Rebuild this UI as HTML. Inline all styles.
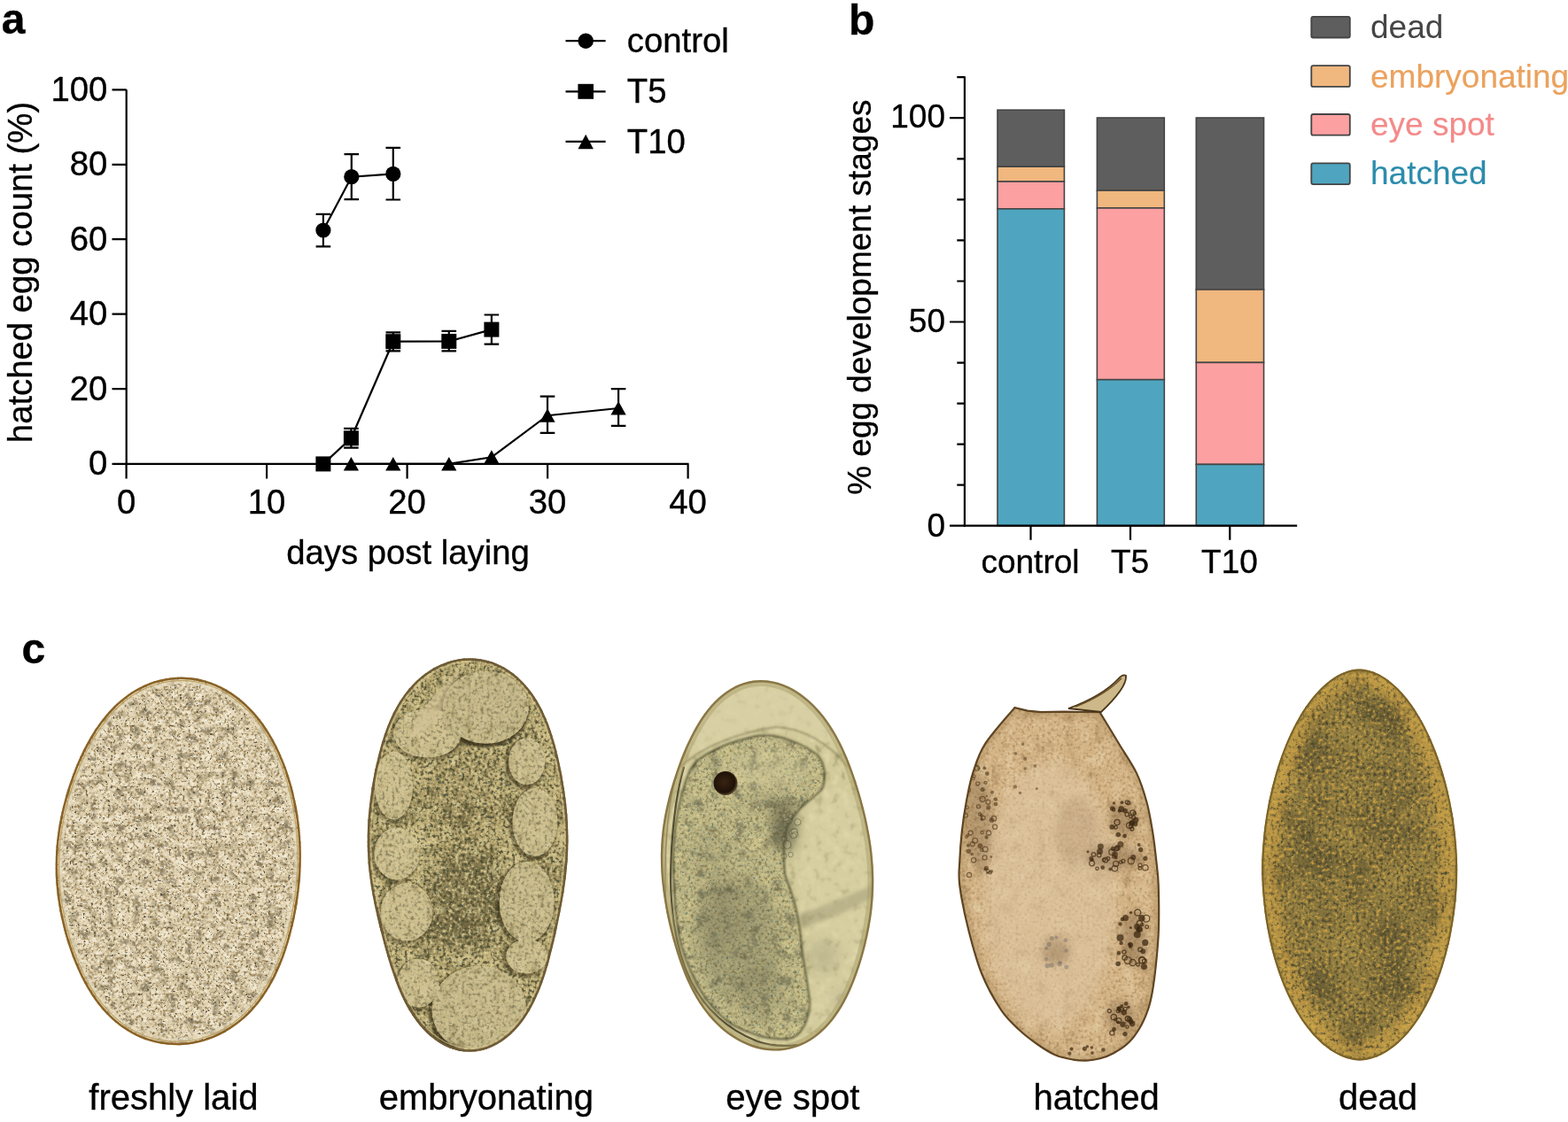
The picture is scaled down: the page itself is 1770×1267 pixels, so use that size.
<!DOCTYPE html>
<html><head><meta charset="utf-8"><title>Egg development figure</title>
<style>
html,body{margin:0;padding:0;background:#fff;width:1770px;height:1267px;overflow:hidden}
svg{display:block}
text{font-family:"Liberation Sans",Arial,sans-serif;fill:#000;stroke:#000;stroke-width:0.35px}
.t{font-size:37px}
.ta{font-size:38.3px}
.b{font-size:48px;font-weight:bold}
.c{font-size:40px}
</style></head><body>
<svg width="1770" height="1267" viewBox="0 0 1770 1267">
<!-- ===== Panel a ===== -->
<g id="pa">
<text class="b" x="1.8" y="38.3">a</text>
<g stroke="#000" stroke-width="2.2" fill="none">
<path d="M142.7 101.3V524.9M126.5 101.3H142.7M126.5 185.8H142.7M126.5 270.2H142.7M126.5 354.7H142.7M126.5 439.1H142.7M126.5 523.9H142.7"/>
<path d="M141.6 523.9H777.6M142.6 523.9V540.5M301.1 523.9V540.5M459.6 523.9V540.5M618.1 523.9V540.5M776.6 523.9V540.5"/>
</g>
<g class="ta" text-anchor="end">
<text x="121.3" y="113.8">100</text>
<text x="121.3" y="198.3">80</text>
<text x="121.3" y="282.7">60</text>
<text x="121.3" y="367.2">40</text>
<text x="121.3" y="451.6">20</text>
<text x="121.3" y="536.3">0</text>
</g>
<g class="ta" text-anchor="middle">
<text x="142.6" y="579.5">0</text>
<text x="301.1" y="579.5">10</text>
<text x="459.6" y="579.5">20</text>
<text x="618.1" y="579.5">30</text>
<text x="776.6" y="579.5">40</text>
<text x="460.5" y="636.5">days post laying</text>
</g>
<text class="ta" text-anchor="middle" transform="translate(35.5 307.5) rotate(-90)">hatched egg count (%)</text>
<!-- data -->
<g stroke="#000" stroke-width="2.2" fill="none">
<!-- control -->
<polyline points="364.9,260 396.8,199.7 443.8,196.4"/>
<path d="M364.9 241.8V278.3M356.6 241.8H373.2M356.6 278.3H373.2"/>
<path d="M396.8 174.2V225.2M388.5 174.2H405.1M388.5 225.2H405.1"/>
<path d="M443.8 166.9V225.5M435.5 166.9H452.1M435.5 225.5H452.1"/>
<!-- T5 -->
<polyline points="364.9,523.9 396.4,494.8 443.8,385.7 506.8,385.4 554.9,372.1"/>
<path d="M396.4 483.8V505.7M388.1 483.8H404.7M388.1 505.7H404.7"/>
<path d="M443.8 375.4V396.3M435.5 375.4H452.1M435.5 396.3H452.1"/>
<path d="M506.8 373.8V396.3M498.5 373.8H515.1M498.5 396.3H515.1"/>
<path d="M554.9 355.5V388.7M546.6 355.5H563.2M546.6 388.7H563.2"/>
<!-- T10 -->
<polyline points="396.4,523.9 443.8,523.9 506.8,523.9 554.9,516.3 618,469.2 698.1,461"/>
<path d="M618 447.7V488.8M609.7 447.7H626.3M609.7 488.8H626.3"/>
<path d="M698.1 439.1V480.8M689.8 439.1H706.4M689.8 480.8H706.4"/>
</g>
<g fill="#000">
<circle cx="364.9" cy="260" r="8.6"/>
<circle cx="396.8" cy="199.7" r="8.6"/>
<circle cx="443.8" cy="196.4" r="8.6"/>
<rect x="356.4" y="515.4" width="17" height="17"/>
<rect x="387.9" y="486.3" width="17" height="17"/>
<rect x="435.3" y="377.2" width="17" height="17"/>
<rect x="498.3" y="376.9" width="17" height="17"/>
<rect x="546.4" y="363.6" width="17" height="17"/>
<path d="M396.4 515.9L405 531.4H387.8Z"/>
<path d="M443.8 515.9L452.4 531.4H435.2Z"/>
<path d="M506.8 515.9L515.4 531.4H498.2Z"/>
<path d="M554.9 508.3L563.5 523.8H546.3Z"/>
<path d="M618 461.2L626.6 476.7H609.4Z"/>
<path d="M698.1 453L706.7 468.5H689.5Z"/>
</g>
<!-- legend a -->
<g stroke="#000" stroke-width="2.2"><path d="M638.5 46.2H683.6M638.5 103.3H683.6M638.5 159.9H683.6"/></g>
<g fill="#000">
<circle cx="661.2" cy="46.2" r="8.7"/>
<rect x="652.4" y="94.8" width="17.6" height="17"/>
<path d="M661.2 151.8L669.9 168.2H652.5Z"/>
</g>
<text class="ta" x="707.8" y="59">control</text>
<text class="ta" x="707.8" y="116.1">T5</text>
<text class="ta" x="707.8" y="173.4">T10</text>
</g>

<!-- ===== Panel b ===== -->
<g id="pb">
<text class="b" x="958" y="38.5">b</text>
<g stroke="#444" stroke-width="1.6">
<!-- control -->
<rect x="1126" y="124.2" width="75.4" height="64" fill="#5e5e5e"/>
<rect x="1126" y="188.2" width="75.4" height="16.8" fill="#f0b77e"/>
<rect x="1126" y="205" width="75.4" height="30.8" fill="#fca0a1"/>
<rect x="1126" y="235.8" width="75.4" height="357.9" fill="#4fa5bf"/>
<!-- T5 -->
<rect x="1238.4" y="133" width="75.9" height="82.1" fill="#5e5e5e"/>
<rect x="1238.4" y="215.1" width="75.9" height="19.8" fill="#f0b77e"/>
<rect x="1238.4" y="234.9" width="75.9" height="193.8" fill="#fca0a1"/>
<rect x="1238.4" y="428.7" width="75.9" height="165" fill="#4fa5bf"/>
<!-- T10 -->
<rect x="1350.3" y="133" width="76.3" height="194" fill="#5e5e5e"/>
<rect x="1350.3" y="327" width="76.3" height="82.4" fill="#f0b77e"/>
<rect x="1350.3" y="409.4" width="76.3" height="115" fill="#fca0a1"/>
<rect x="1350.3" y="524.4" width="76.3" height="69.3" fill="#4fa5bf"/>
</g>
<g stroke="#000" stroke-width="2.2" fill="none">
<path d="M1088.9 86.3V594.8"/>
<path d="M1072 133.2H1088.9M1072 363.5H1088.9M1072 593.7H1088.9"/>
<path d="M1080.3 87.2H1088.9M1080.3 179.3H1088.9M1080.3 225.4H1088.9M1080.3 271.4H1088.9M1080.3 317.5H1088.9M1080.3 409.6H1088.9M1080.3 455.6H1088.9M1080.3 501.7H1088.9M1080.3 547.7H1088.9"/>
<path d="M1087.8 593.7H1464.2M1163.5 593.7V609.7M1276 593.7V609.7M1388.3 593.7V609.7"/>
</g>
<g class="t" text-anchor="end">
<text x="1067" y="144.3">100</text>
<text x="1067" y="374.8">50</text>
<text x="1067" y="605.7">0</text>
</g>
<g class="t" text-anchor="middle">
<text x="1163" y="646.6">control</text>
<text x="1275.5" y="646.6">T5</text>
<text x="1388" y="646.6">T10</text>
</g>
<text class="t" text-anchor="middle" transform="translate(983 335.7) rotate(-90)">% egg development stages</text>
<!-- legend b -->
<g stroke="#444" stroke-width="1.8">
<rect x="1480.3" y="18.8" width="43.5" height="23.7" rx="2" fill="#5e5e5e"/>
<rect x="1480.3" y="74.2" width="43.5" height="23.7" rx="2" fill="#f0b77e"/>
<rect x="1480.3" y="129" width="43.5" height="23.7" rx="2" fill="#fca0a1"/>
<rect x="1480.3" y="184.4" width="43.5" height="23.7" rx="2" fill="#4fa5bf"/>
</g>
<text class="t" x="1547" y="43.2" style="fill:#454545;stroke:none">dead</text>
<text class="t" x="1547" y="98.5" style="fill:#eba25e;stroke:#eba25e;stroke-width:0.15px">embryonating</text>
<text class="t" x="1547" y="153" style="fill:#f48a8a;stroke:#f48a8a;stroke-width:0.15px">eye spot</text>
<text class="t" x="1547" y="208.3" style="fill:#2c8cac;stroke:#2c8cac;stroke-width:0.15px">hatched</text>
</g>

<!-- ===== Panel c ===== -->
<g id="pc">
<text class="b" x="24.5" y="749">c</text>
<defs>
<clipPath id="k1"><path d="M209.4 764.7 C213.5 764.9 217.5 765.3 221.5 766.0 C225.6 766.8 229.5 767.7 233.4 768.9 C237.3 770.1 241.2 771.5 245.0 773.2 C248.7 774.8 252.4 776.7 255.9 778.7 C259.5 780.8 263.0 783.1 266.3 785.5 C269.6 787.9 272.8 790.5 275.9 793.3 C279.0 796.0 282.0 798.9 284.8 802.0 C287.6 805.0 290.3 808.1 292.8 811.4 C295.4 814.6 297.8 818.0 300.1 821.4 C302.4 824.8 304.6 828.3 306.7 831.9 C308.7 835.4 310.7 839.0 312.5 842.7 C314.3 846.4 316.0 850.1 317.6 853.8 C319.3 857.6 320.8 861.4 322.2 865.2 C323.6 869.0 324.9 872.8 326.1 876.7 C327.4 880.5 328.5 884.4 329.6 888.3 C330.6 892.2 331.6 896.2 332.5 900.1 C333.4 904.0 334.2 908.0 335.0 912.0 C335.7 915.9 336.3 919.9 336.9 923.9 C337.5 928.0 338.0 932.0 338.4 936.0 C338.8 940.1 339.1 944.1 339.4 948.2 C339.6 952.3 339.8 956.3 339.9 960.4 C340.0 964.5 340.0 968.6 339.9 972.7 C339.9 976.8 339.7 980.9 339.5 985.0 C339.3 989.1 338.9 993.2 338.6 997.3 C338.2 1001.4 337.7 1005.5 337.2 1009.6 C336.7 1013.7 336.1 1017.8 335.4 1021.8 C334.8 1025.9 334.0 1029.9 333.2 1033.9 C332.4 1038.0 331.5 1042.0 330.6 1045.9 C329.7 1049.9 328.6 1053.9 327.6 1057.8 C326.5 1061.8 325.3 1065.7 324.1 1069.5 C322.8 1073.4 321.5 1077.2 320.1 1081.0 C318.7 1084.8 317.2 1088.6 315.6 1092.3 C314.0 1096.1 312.3 1099.7 310.5 1103.3 C308.7 1107.0 306.8 1110.5 304.8 1114.0 C302.7 1117.5 300.6 1120.9 298.3 1124.3 C296.0 1127.6 293.6 1130.9 291.1 1134.0 C288.5 1137.2 285.8 1140.3 283.0 1143.2 C280.2 1146.1 277.2 1148.9 274.2 1151.6 C271.1 1154.3 267.8 1156.8 264.5 1159.2 C261.1 1161.5 257.6 1163.8 254.0 1165.8 C250.4 1167.8 246.7 1169.6 242.9 1171.3 C239.1 1172.9 235.2 1174.3 231.2 1175.5 C227.2 1176.7 223.2 1177.7 219.1 1178.4 C215.0 1179.2 210.9 1179.7 206.7 1180.0 C202.6 1180.3 198.4 1180.3 194.3 1180.1 C190.2 1179.9 186.1 1179.5 182.1 1178.8 C178.0 1178.1 174.0 1177.2 170.1 1176.1 C166.2 1175.0 162.3 1173.6 158.6 1172.0 C154.8 1170.4 151.2 1168.6 147.6 1166.6 C144.1 1164.7 140.7 1162.5 137.4 1160.1 C134.1 1157.8 130.9 1155.2 127.9 1152.6 C124.9 1149.9 122.0 1147.1 119.2 1144.1 C116.4 1141.2 113.8 1138.1 111.3 1134.9 C108.8 1131.7 106.4 1128.4 104.1 1125.0 C101.9 1121.6 99.7 1118.1 97.7 1114.6 C95.7 1111.0 93.7 1107.4 91.9 1103.8 C90.1 1100.1 88.4 1096.4 86.7 1092.6 C85.1 1088.8 83.5 1085.0 82.1 1081.2 C80.6 1077.3 79.2 1073.5 77.9 1069.6 C76.6 1065.7 75.4 1061.7 74.3 1057.8 C73.1 1053.9 72.1 1049.9 71.1 1045.9 C70.1 1041.9 69.2 1037.9 68.4 1033.9 C67.6 1029.9 66.8 1025.9 66.2 1021.8 C65.5 1017.8 64.9 1013.8 64.4 1009.7 C64.0 1005.7 63.6 1001.6 63.3 997.5 C63.0 993.5 62.7 989.4 62.6 985.3 C62.5 981.3 62.5 977.2 62.6 973.2 C62.6 969.1 62.8 965.0 63.1 961.0 C63.3 957.0 63.7 952.9 64.1 948.9 C64.6 944.9 65.1 940.8 65.7 936.8 C66.3 932.8 67.1 928.8 67.8 924.8 C68.6 920.9 69.5 916.9 70.4 912.9 C71.4 909.0 72.4 905.1 73.5 901.1 C74.6 897.2 75.8 893.3 77.0 889.4 C78.3 885.6 79.6 881.7 81.0 877.8 C82.3 874.0 83.8 870.2 85.3 866.4 C86.9 862.6 88.5 858.8 90.2 855.1 C91.9 851.3 93.7 847.6 95.6 844.0 C97.4 840.3 99.4 836.7 101.5 833.1 C103.6 829.6 105.7 826.1 108.0 822.7 C110.3 819.2 112.7 815.9 115.2 812.6 C117.7 809.4 120.4 806.2 123.1 803.2 C125.9 800.1 128.8 797.2 131.8 794.4 C134.8 791.7 138.0 789.0 141.2 786.5 C144.5 784.1 147.9 781.8 151.3 779.7 C154.8 777.5 158.4 775.6 162.1 773.9 C165.8 772.2 169.6 770.7 173.4 769.5 C177.3 768.2 181.2 767.2 185.2 766.4 C189.2 765.6 193.2 765.1 197.3 764.8 C201.3 764.5 205.4 764.4 209.4 764.7Z"/></clipPath>
<clipPath id="k2"><path d="M530.5 743.2 C534.5 743.2 538.5 743.6 542.4 744.2 C546.4 744.8 550.3 745.8 554.1 747.0 C557.9 748.2 561.6 749.8 565.2 751.5 C568.8 753.3 572.3 755.4 575.6 757.7 C578.9 759.9 582.1 762.5 585.1 765.2 C588.1 767.9 591.0 770.8 593.6 773.9 C596.3 776.9 598.8 780.2 601.2 783.5 C603.5 786.8 605.7 790.3 607.7 793.8 C609.8 797.3 611.6 801.0 613.4 804.6 C615.1 808.3 616.7 812.0 618.2 815.8 C619.7 819.5 621.0 823.3 622.3 827.1 C623.6 830.9 624.7 834.7 625.8 838.6 C626.9 842.4 628.0 846.2 628.9 850.1 C629.9 853.9 630.8 857.8 631.6 861.6 C632.4 865.5 633.2 869.4 634.0 873.3 C634.7 877.2 635.4 881.1 636.0 885.0 C636.7 888.9 637.3 892.9 637.8 896.9 C638.3 900.8 638.8 904.8 639.3 908.8 C639.7 912.8 640.1 916.9 640.4 920.9 C640.7 925.0 641.0 929.1 641.1 933.2 C641.3 937.3 641.4 941.4 641.4 945.5 C641.5 949.6 641.4 953.7 641.3 957.8 C641.2 961.9 641.0 966.0 640.7 970.1 C640.5 974.2 640.1 978.3 639.7 982.3 C639.3 986.4 638.9 990.4 638.4 994.4 C637.8 998.4 637.3 1002.3 636.6 1006.3 C636.0 1010.2 635.4 1014.1 634.7 1018.0 C634.0 1021.9 633.3 1025.7 632.5 1029.6 C631.8 1033.4 631.0 1037.2 630.2 1041.0 C629.4 1044.8 628.6 1048.6 627.8 1052.4 C626.9 1056.2 626.1 1060.0 625.2 1063.9 C624.3 1067.7 623.4 1071.5 622.4 1075.4 C621.4 1079.2 620.4 1083.1 619.3 1087.0 C618.3 1090.8 617.1 1094.7 615.9 1098.7 C614.7 1102.6 613.4 1106.5 611.9 1110.4 C610.5 1114.3 609.0 1118.2 607.3 1122.1 C605.7 1126.0 603.9 1129.8 602.0 1133.6 C600.0 1137.3 597.9 1141.1 595.7 1144.6 C593.4 1148.2 591.0 1151.7 588.5 1155.0 C585.9 1158.3 583.2 1161.5 580.3 1164.4 C577.4 1167.3 574.4 1170.1 571.2 1172.6 C568.1 1175.0 564.7 1177.3 561.3 1179.2 C557.9 1181.1 554.4 1182.7 550.8 1184.0 C547.2 1185.3 543.5 1186.3 539.8 1186.9 C536.1 1187.5 532.3 1187.8 528.6 1187.7 C524.9 1187.6 521.1 1187.2 517.4 1186.4 C513.8 1185.6 510.1 1184.5 506.6 1183.0 C503.0 1181.6 499.5 1179.8 496.2 1177.8 C492.8 1175.7 489.6 1173.3 486.5 1170.7 C483.4 1168.2 480.4 1165.3 477.6 1162.2 C474.8 1159.2 472.2 1155.9 469.6 1152.6 C467.1 1149.2 464.8 1145.6 462.6 1142.0 C460.4 1138.3 458.4 1134.6 456.4 1130.8 C454.5 1127.0 452.7 1123.1 451.1 1119.2 C449.4 1115.3 447.9 1111.4 446.4 1107.5 C444.9 1103.6 443.6 1099.6 442.3 1095.8 C441.0 1091.9 439.8 1088.0 438.6 1084.1 C437.5 1080.3 436.4 1076.5 435.3 1072.6 C434.2 1068.8 433.2 1065.1 432.2 1061.3 C431.2 1057.5 430.2 1053.8 429.3 1050.0 C428.3 1046.2 427.4 1042.5 426.5 1038.7 C425.6 1034.9 424.7 1031.2 423.9 1027.4 C423.1 1023.5 422.2 1019.7 421.5 1015.9 C420.7 1012.0 420.0 1008.1 419.4 1004.2 C418.7 1000.3 418.1 996.3 417.6 992.3 C417.0 988.3 416.5 984.3 416.1 980.2 C415.8 976.2 415.4 972.1 415.2 968.0 C414.9 963.9 414.8 959.8 414.7 955.6 C414.6 951.5 414.6 947.4 414.7 943.2 C414.8 939.1 414.9 935.0 415.1 930.8 C415.4 926.7 415.7 922.6 416.0 918.6 C416.4 914.5 416.8 910.4 417.3 906.4 C417.8 902.4 418.3 898.4 418.9 894.4 C419.5 890.4 420.1 886.5 420.8 882.6 C421.5 878.7 422.2 874.8 423.0 870.9 C423.8 867.1 424.6 863.2 425.5 859.4 C426.4 855.6 427.3 851.8 428.3 848.0 C429.3 844.2 430.4 840.4 431.6 836.6 C432.7 832.9 434.0 829.1 435.3 825.4 C436.7 821.7 438.1 817.9 439.7 814.3 C441.3 810.6 443.0 806.9 444.8 803.3 C446.7 799.8 448.7 796.2 450.8 792.8 C453.0 789.3 455.3 785.9 457.8 782.6 C460.3 779.4 462.9 776.2 465.7 773.2 C468.6 770.2 471.5 767.3 474.7 764.7 C477.8 762.0 481.1 759.5 484.6 757.3 C488.0 755.1 491.6 753.0 495.3 751.3 C499.0 749.6 502.8 748.1 506.6 746.9 C510.5 745.7 514.5 744.7 518.5 744.1 C522.4 743.5 526.5 743.2 530.5 743.2Z"/></clipPath>
<clipPath id="klobes"><ellipse cx="548.4" cy="798.6" rx="48.5" ry="41.2"/><ellipse cx="594.7" cy="859.8" rx="20.5" ry="26.5"/><ellipse cx="603.9" cy="928.5" rx="25.5" ry="38.5"/><ellipse cx="594.7" cy="1018.4" rx="31.0" ry="45.5"/><ellipse cx="594.7" cy="1080" rx="23.5" ry="19.5"/><ellipse cx="541" cy="1140" rx="53.5" ry="49.5"/><ellipse cx="472.3" cy="1110" rx="23.5" ry="27.5"/><ellipse cx="444.5" cy="887" rx="21.5" ry="38.5"/><ellipse cx="448" cy="964" rx="25.5" ry="29.5"/><ellipse cx="459" cy="1030" rx="29.5" ry="32.5"/><ellipse cx="482.6" cy="828" rx="38.5" ry="27.5"/></clipPath>
<clipPath id="k3"><path d="M861.4 768.0 C865.1 768.1 868.8 768.5 872.4 769.3 C876.1 770.0 879.7 771.1 883.3 772.4 C886.9 773.7 890.4 775.3 893.9 777.1 C897.3 779.0 900.7 781.1 904.0 783.4 C907.2 785.7 910.4 788.2 913.4 790.9 C916.4 793.6 919.3 796.4 922.1 799.4 C924.8 802.4 927.5 805.5 930.0 808.7 C932.5 811.9 934.8 815.3 937.1 818.6 C939.3 822.0 941.4 825.4 943.4 828.9 C945.4 832.3 947.3 835.9 949.0 839.4 C950.8 842.9 952.4 846.4 954.0 850.0 C955.6 853.5 957.1 857.1 958.5 860.7 C959.9 864.2 961.2 867.8 962.5 871.4 C963.8 875.0 965.0 878.5 966.2 882.1 C967.4 885.7 968.5 889.3 969.6 893.0 C970.7 896.6 971.7 900.2 972.7 903.9 C973.7 907.6 974.7 911.3 975.6 915.0 C976.6 918.7 977.4 922.5 978.3 926.3 C979.1 930.1 979.9 933.9 980.6 937.7 C981.4 941.6 982.0 945.5 982.6 949.3 C983.2 953.2 983.8 957.2 984.3 961.1 C984.7 965.0 985.1 969.0 985.4 972.9 C985.7 976.9 986.0 980.9 986.1 984.8 C986.3 988.8 986.4 992.7 986.3 996.6 C986.3 1000.6 986.2 1004.5 986.0 1008.4 C985.8 1012.3 985.6 1016.2 985.2 1020.1 C984.9 1023.9 984.4 1027.8 983.9 1031.6 C983.4 1035.4 982.9 1039.2 982.2 1043.0 C981.6 1046.8 980.9 1050.5 980.1 1054.3 C979.3 1058.0 978.5 1061.8 977.6 1065.5 C976.7 1069.2 975.8 1072.9 974.7 1076.6 C973.7 1080.4 972.6 1084.1 971.5 1087.8 C970.3 1091.5 969.1 1095.2 967.8 1098.9 C966.5 1102.5 965.1 1106.2 963.6 1109.9 C962.1 1113.5 960.6 1117.2 958.9 1120.8 C957.2 1124.4 955.4 1128.0 953.5 1131.5 C951.6 1135.0 949.6 1138.4 947.5 1141.8 C945.3 1145.1 943.0 1148.4 940.6 1151.5 C938.2 1154.6 935.6 1157.6 932.9 1160.4 C930.2 1163.2 927.4 1165.9 924.4 1168.3 C921.4 1170.8 918.3 1173.1 915.0 1175.1 C911.8 1177.1 908.4 1178.9 905.0 1180.4 C901.5 1181.9 897.9 1183.2 894.3 1184.2 C890.6 1185.1 886.9 1185.8 883.1 1186.2 C879.3 1186.7 875.5 1186.8 871.7 1186.6 C867.8 1186.4 864.0 1186.0 860.1 1185.2 C856.3 1184.5 852.5 1183.5 848.8 1182.2 C845.1 1180.9 841.4 1179.4 837.8 1177.6 C834.2 1175.9 830.7 1173.9 827.3 1171.7 C824.0 1169.6 820.7 1167.2 817.6 1164.6 C814.4 1162.1 811.4 1159.4 808.6 1156.6 C805.7 1153.8 803.0 1150.8 800.4 1147.8 C797.9 1144.7 795.4 1141.6 793.2 1138.4 C790.9 1135.2 788.7 1131.9 786.7 1128.6 C784.7 1125.2 782.8 1121.9 781.0 1118.5 C779.2 1115.1 777.6 1111.6 776.0 1108.2 C774.4 1104.7 773.0 1101.2 771.6 1097.7 C770.2 1094.2 768.9 1090.7 767.6 1087.1 C766.3 1083.5 765.2 1080.0 764.0 1076.3 C762.9 1072.7 761.8 1069.1 760.7 1065.4 C759.7 1061.7 758.7 1058.0 757.7 1054.3 C756.8 1050.5 755.9 1046.7 755.0 1042.9 C754.1 1039.1 753.3 1035.3 752.5 1031.4 C751.7 1027.5 751.0 1023.6 750.3 1019.7 C749.7 1015.7 749.1 1011.8 748.5 1007.8 C748.0 1003.8 747.5 999.8 747.1 995.8 C746.7 991.8 746.4 987.8 746.2 983.8 C746.0 979.9 745.8 975.9 745.8 971.9 C745.7 968.0 745.7 964.0 745.9 960.1 C746.0 956.2 746.2 952.3 746.5 948.5 C746.8 944.6 747.2 940.8 747.6 937.0 C748.1 933.3 748.6 929.5 749.3 925.8 C749.9 922.1 750.6 918.4 751.3 914.7 C752.1 911.0 752.9 907.4 753.8 903.7 C754.7 900.1 755.7 896.4 756.7 892.8 C757.7 889.2 758.8 885.5 759.9 881.9 C761.0 878.2 762.2 874.6 763.5 870.9 C764.7 867.3 766.0 863.6 767.4 859.9 C768.8 856.2 770.3 852.5 771.8 848.8 C773.4 845.2 775.0 841.5 776.7 837.8 C778.4 834.1 780.2 830.5 782.1 826.9 C784.0 823.3 786.0 819.7 788.2 816.2 C790.3 812.7 792.5 809.3 794.9 806.0 C797.3 802.8 799.8 799.6 802.4 796.6 C805.1 793.6 807.8 790.8 810.7 788.1 C813.6 785.5 816.6 783.1 819.7 780.9 C822.9 778.7 826.1 776.7 829.4 775.1 C832.8 773.4 836.2 772.0 839.7 770.9 C843.2 769.8 846.8 769.0 850.4 768.5 C854.0 768.0 857.7 767.8 861.4 768.0Z"/></clipPath>
<clipPath id="kemb"><path d="M787 859 C805 845 830 836 855 831 C880 828 905 840 922 852 C932 862 933 880 928 891 C918 902 900 912 890 930 C884 945 884 965 886 988 C895 1010 902 1035 904 1061 C907 1090 913 1115 914 1133 C914 1150 905 1168 894 1172 C880 1175 870 1172 862 1171 C845 1166 828 1160 815 1148 C800 1135 788 1115 780 1097 C772 1080 766 1060 764 1040 C760 1000 759 970 761 950 C763 920 768 900 775 880 C778 870 782 864 787 859 Z"/></clipPath>
<clipPath id="k5"><path d="M1645.2 976.3 C1645.3 979.6 1645.3 982.8 1645.2 986.2 C1645.2 989.6 1645.1 993.2 1644.9 996.8 C1644.8 1000.4 1644.5 1004.0 1644.3 1007.7 C1644.0 1011.3 1643.7 1015.0 1643.4 1018.6 C1643.0 1022.3 1642.6 1025.9 1642.1 1029.6 C1641.6 1033.2 1641.1 1036.9 1640.5 1040.5 C1640.0 1044.1 1639.3 1047.8 1638.7 1051.4 C1638.0 1054.9 1637.3 1058.5 1636.5 1062.1 C1635.7 1065.6 1634.9 1069.1 1634.0 1072.6 C1633.1 1076.0 1632.2 1079.5 1631.2 1082.9 C1630.3 1086.3 1629.2 1089.6 1628.2 1092.9 C1627.1 1096.2 1626.0 1099.5 1624.8 1102.7 C1623.7 1105.9 1622.5 1109.0 1621.2 1112.1 C1620.0 1115.2 1618.7 1118.2 1617.4 1121.1 C1616.1 1124.1 1614.7 1127.0 1613.3 1129.8 C1611.9 1132.6 1610.4 1135.4 1609.0 1138.1 C1607.5 1140.7 1606.0 1143.3 1604.4 1145.9 C1602.9 1148.4 1601.3 1150.8 1599.7 1153.2 C1598.1 1155.6 1596.4 1157.8 1594.8 1160.0 C1593.1 1162.2 1591.4 1164.3 1589.7 1166.4 C1588.0 1168.4 1586.2 1170.3 1584.4 1172.1 C1582.7 1174.0 1580.9 1175.7 1579.1 1177.4 C1577.3 1179.0 1575.5 1180.6 1573.6 1182.0 C1571.8 1183.5 1569.9 1184.8 1568.1 1186.1 C1566.2 1187.3 1564.3 1188.5 1562.5 1189.5 C1560.6 1190.6 1558.7 1191.5 1556.8 1192.4 C1555.0 1193.2 1553.1 1194.0 1551.2 1194.6 C1549.4 1195.2 1547.5 1195.8 1545.6 1196.2 C1543.8 1196.6 1541.9 1197.0 1540.2 1197.2 C1538.4 1197.4 1536.8 1197.5 1535.1 1197.5 C1533.4 1197.5 1531.7 1197.4 1530.0 1197.2 C1528.2 1197.0 1526.4 1196.7 1524.5 1196.2 C1522.7 1195.8 1520.8 1195.3 1518.9 1194.7 C1517.1 1194.0 1515.2 1193.3 1513.3 1192.5 C1511.4 1191.6 1509.5 1190.7 1507.7 1189.6 C1505.8 1188.6 1503.9 1187.4 1502.1 1186.2 C1500.2 1184.9 1498.3 1183.6 1496.5 1182.1 C1494.7 1180.7 1492.8 1179.2 1491.0 1177.5 C1489.2 1175.9 1487.4 1174.1 1485.6 1172.3 C1483.9 1170.5 1482.1 1168.6 1480.4 1166.5 C1478.7 1164.5 1477.0 1162.4 1475.3 1160.2 C1473.6 1158.1 1472.0 1155.8 1470.3 1153.4 C1468.7 1151.1 1467.1 1148.6 1465.6 1146.1 C1464.0 1143.6 1462.5 1141.0 1461.0 1138.3 C1459.5 1135.6 1458.1 1132.9 1456.6 1130.1 C1455.2 1127.3 1453.9 1124.4 1452.5 1121.4 C1451.2 1118.5 1449.9 1115.5 1448.6 1112.4 C1447.4 1109.3 1446.2 1106.2 1445.0 1103.0 C1443.8 1099.8 1442.7 1096.5 1441.6 1093.2 C1440.6 1089.9 1439.5 1086.6 1438.5 1083.2 C1437.6 1079.8 1436.6 1076.4 1435.7 1072.9 C1434.8 1069.5 1434.0 1065.9 1433.2 1062.4 C1432.4 1058.9 1431.7 1055.3 1431.0 1051.7 C1430.3 1048.1 1429.7 1044.5 1429.1 1040.9 C1428.5 1037.3 1428.0 1033.6 1427.5 1030.0 C1427.0 1026.3 1426.6 1022.6 1426.2 1019.0 C1425.8 1015.3 1425.5 1011.7 1425.2 1008.0 C1425.0 1004.4 1424.7 1000.8 1424.6 997.2 C1424.4 993.6 1424.3 990.0 1424.2 986.6 C1424.2 983.2 1424.2 980.0 1424.2 976.7 C1424.2 973.4 1424.3 970.2 1424.5 966.8 C1424.6 963.4 1424.8 959.8 1425.1 956.2 C1425.4 952.6 1425.7 949.0 1426.0 945.3 C1426.4 941.7 1426.8 938.0 1427.3 934.4 C1427.8 930.7 1428.3 927.1 1428.8 923.4 C1429.4 919.8 1430.0 916.1 1430.7 912.5 C1431.4 908.9 1432.1 905.2 1432.8 901.6 C1433.6 898.1 1434.4 894.5 1435.3 890.9 C1436.1 887.4 1437.0 883.9 1438.0 880.4 C1438.9 877.0 1439.9 873.5 1440.9 870.1 C1441.9 866.7 1443.0 863.4 1444.1 860.1 C1445.2 856.8 1446.4 853.5 1447.6 850.3 C1448.8 847.1 1450.0 844.0 1451.3 840.9 C1452.5 837.8 1453.9 834.8 1455.2 831.9 C1456.5 828.9 1457.9 826.0 1459.3 823.2 C1460.7 820.4 1462.1 817.6 1463.6 814.9 C1465.1 812.3 1466.6 809.7 1468.1 807.1 C1469.6 804.6 1471.2 802.2 1472.7 799.8 C1474.3 797.4 1475.9 795.2 1477.5 793.0 C1479.2 790.8 1480.8 788.7 1482.5 786.6 C1484.1 784.6 1485.8 782.7 1487.5 780.9 C1489.2 779.0 1490.9 777.3 1492.7 775.6 C1494.4 774.0 1496.1 772.4 1497.9 771.0 C1499.6 769.5 1501.4 768.2 1503.1 766.9 C1504.9 765.7 1506.7 764.5 1508.5 763.5 C1510.2 762.4 1512.0 761.5 1513.8 760.6 C1515.6 759.8 1517.3 759.0 1519.1 758.4 C1520.9 757.8 1522.6 757.2 1524.4 756.8 C1526.1 756.4 1527.9 756.0 1529.5 755.8 C1531.2 755.6 1532.7 755.5 1534.3 755.5 C1535.9 755.5 1537.5 755.6 1539.1 755.8 C1540.8 756.0 1542.5 756.3 1544.3 756.8 C1546.0 757.2 1547.8 757.7 1549.5 758.3 C1551.3 759.0 1553.1 759.7 1554.9 760.5 C1556.6 761.4 1558.4 762.3 1560.2 763.4 C1562.0 764.4 1563.8 765.6 1565.5 766.8 C1567.3 768.1 1569.1 769.4 1570.8 770.9 C1572.6 772.3 1574.3 773.9 1576.0 775.5 C1577.8 777.1 1579.5 778.9 1581.2 780.7 C1582.9 782.5 1584.6 784.5 1586.3 786.5 C1587.9 788.5 1589.6 790.6 1591.2 792.8 C1592.8 795.0 1594.5 797.2 1596.0 799.6 C1597.6 801.9 1599.2 804.4 1600.7 806.9 C1602.2 809.4 1603.7 812.0 1605.2 814.7 C1606.7 817.4 1608.1 820.1 1609.6 822.9 C1611.0 825.7 1612.4 828.6 1613.7 831.6 C1615.1 834.5 1616.4 837.5 1617.6 840.6 C1618.9 843.7 1620.2 846.8 1621.4 850.0 C1622.6 853.2 1623.7 856.5 1624.9 859.8 C1626.0 863.1 1627.1 866.4 1628.1 869.8 C1629.2 873.2 1630.2 876.6 1631.1 880.1 C1632.1 883.6 1633.0 887.1 1633.8 890.6 C1634.7 894.1 1635.5 897.7 1636.3 901.3 C1637.1 904.9 1637.8 908.5 1638.5 912.1 C1639.2 915.7 1639.8 919.4 1640.4 923.0 C1641.0 926.7 1641.5 930.4 1642.0 934.0 C1642.4 937.7 1642.9 941.3 1643.2 945.0 C1643.6 948.6 1644.0 952.2 1644.2 955.8 C1644.5 959.4 1644.7 963.0 1644.9 966.4 C1645.0 969.8 1645.1 973.0 1645.2 976.3Z"/></clipPath>
<clipPath id="k4"><path d="M1145.4 799.1 L1160 802.6 L1175 804.2 L1202 803.6 L1222 804.0 L1241.4 804.1 C1245.0 810.0 1256.1 828.2 1263.0 839.7 C1269.9 851.2 1277.7 861.9 1282.9 872.9 C1288.2 883.9 1291.5 895.0 1294.5 906.0 C1297.5 917.0 1299.3 928.2 1301.1 939.2 C1302.9 950.2 1304.2 962.2 1305.3 972.3 C1306.4 982.4 1307.3 987.1 1307.7 1000.0 C1308.1 1012.9 1308.4 1034.7 1307.9 1049.7 C1307.4 1064.7 1306.0 1078.3 1304.8 1090.0 C1303.6 1101.7 1302.3 1111.6 1300.8 1120.0 C1299.3 1128.4 1298.2 1133.5 1295.8 1140.3 C1293.4 1147.1 1290.2 1154.6 1286.6 1160.7 C1283.0 1166.8 1279.3 1172.2 1274.4 1177.0 C1269.5 1181.8 1262.5 1186.2 1257.1 1189.2 C1251.7 1192.2 1247.0 1193.9 1241.9 1195.3 C1236.8 1196.7 1231.7 1197.4 1226.6 1197.6 C1221.5 1197.8 1217.3 1197.7 1211.4 1196.6 C1205.5 1195.5 1197.8 1194.1 1191.0 1191.2 C1184.2 1188.3 1177.5 1183.8 1170.7 1179.0 C1163.9 1174.2 1157.1 1169.2 1150.3 1162.7 C1143.5 1156.2 1137.0 1150.8 1130.0 1140.3 C1123.0 1129.8 1114.3 1114.6 1108.2 1099.5 C1102.1 1084.4 1097.4 1066.3 1093.2 1049.7 C1089.0 1033.1 1085.0 1012.9 1083.3 1000.0 C1081.6 987.1 1082.9 982.4 1083.3 972.3 C1083.7 962.2 1084.6 950.2 1085.8 939.2 C1087.0 928.2 1088.6 917.0 1090.7 906.0 C1092.8 895.0 1094.6 883.9 1098.2 872.9 C1101.8 861.9 1104.4 852.0 1112.3 839.7 C1120.2 827.4 1139.9 805.9 1145.4 799.1Z"/></clipPath>
<filter id="t1" x="0" y="0" width="100%" height="100%" color-interpolation-filters="sRGB"><feTurbulence type="fractalNoise" baseFrequency="0.32" numOctaves="2" seed="7" result="n0"/><feGaussianBlur in="n0" stdDeviation="0.3" result="n"/><feColorMatrix in="n" type="matrix" values="0 0 0 0 0.557 0 0 0 0 0.455 0 0 0 0 0.282 4.5 0 0 0 -2.45" result="L0"/><feColorMatrix in="n" type="matrix" values="0 0 0 0 0.965 0 0 0 0 0.933 0 0 0 0 0.859 -4.5 0 0 0 2.05" result="L1"/><feColorMatrix in="n" type="matrix" values="0 0 0 0 0.29 0 0 0 0 0.267 0 0 0 0 0.212 0 7 0 0 -4.5" result="L2"/><feMerge><feMergeNode in="L0"/><feMergeNode in="L1"/><feMergeNode in="L2"/></feMerge></filter>
<filter id="t1m" x="0" y="0" width="100%" height="100%" color-interpolation-filters="sRGB"><feTurbulence type="fractalNoise" baseFrequency="0.1" numOctaves="2" seed="23" result="n0"/><feGaussianBlur in="n0" stdDeviation="0.8" result="n"/><feColorMatrix in="n" type="matrix" values="0 0 0 0 0.522 0 0 0 0 0.478 0 0 0 0 0.376 4.5 0 0 0 -2.45" result="L0"/><feColorMatrix in="n" type="matrix" values="0 0 0 0 0.949 0 0 0 0 0.918 0 0 0 0 0.831 -4.5 0 0 0 2.1" result="L1"/><feMerge><feMergeNode in="L0"/><feMergeNode in="L1"/></feMerge></filter>
<filter id="t1b" x="0" y="0" width="100%" height="100%" color-interpolation-filters="sRGB"><feTurbulence type="fractalNoise" baseFrequency="0.06" numOctaves="2" seed="11" result="n0"/><feGaussianBlur in="n0" stdDeviation="1" result="n"/><feColorMatrix in="n" type="matrix" values="0 0 0 0 0.604 0 0 0 0 0.541 0 0 0 0 0.392 3.5 0 0 0 -1.95" result="L0"/><feColorMatrix in="n" type="matrix" values="0 0 0 0 0.949 0 0 0 0 0.91 0 0 0 0 0.816 -3.5 0 0 0 1.6" result="L1"/><feMerge><feMergeNode in="L0"/><feMergeNode in="L1"/></feMerge></filter>
<filter id="t2" x="0" y="0" width="100%" height="100%" color-interpolation-filters="sRGB"><feTurbulence type="fractalNoise" baseFrequency="0.28" numOctaves="2" seed="3" result="n0"/><feGaussianBlur in="n0" stdDeviation="0.4" result="n"/><feColorMatrix in="n" type="matrix" values="0 0 0 0 0.298 0 0 0 0 0.29 0 0 0 0 0.188 4.5 0 0 0 -2.35" result="L0"/><feColorMatrix in="n" type="matrix" values="0 0 0 0 0.863 0 0 0 0 0.816 0 0 0 0 0.604 -4.5 0 0 0 1.95" result="L1"/><feColorMatrix in="n" type="matrix" values="0 0 0 0 0.243 0 0 0 0 0.353 0 0 0 0 0.337 0 6 0 0 -4.1" result="L2"/><feMerge><feMergeNode in="L0"/><feMergeNode in="L1"/><feMergeNode in="L2"/></feMerge></filter>
<filter id="t2s" x="0" y="0" width="100%" height="100%" color-interpolation-filters="sRGB"><feTurbulence type="fractalNoise" baseFrequency="0.12" numOctaves="2" seed="41" result="n0"/><feGaussianBlur in="n0" stdDeviation="1.2" result="n"/><feColorMatrix in="n" type="matrix" values="0 0 0 0 0.541 0 0 0 0 0.478 0 0 0 0 0.298 3 0 0 0 -1.75" result="L0"/><feColorMatrix in="n" type="matrix" values="0 0 0 0 0.937 0 0 0 0 0.886 0 0 0 0 0.714 -3 0 0 0 1.45" result="L1"/><feMerge><feMergeNode in="L0"/><feMergeNode in="L1"/></feMerge></filter>
<filter id="t2m" x="0" y="0" width="100%" height="100%" color-interpolation-filters="sRGB"><feTurbulence type="fractalNoise" baseFrequency="0.09" numOctaves="2" seed="31" result="n0"/><feGaussianBlur in="n0" stdDeviation="0.8" result="n"/><feColorMatrix in="n" type="matrix" values="0 0 0 0 0.384 0 0 0 0 0.376 0 0 0 0 0.243 4.5 0 0 0 -2.5" result="L0"/><feColorMatrix in="n" type="matrix" values="0 0 0 0 0.863 0 0 0 0 0.816 0 0 0 0 0.612 -4.5 0 0 0 2.1" result="L1"/><feMerge><feMergeNode in="L0"/><feMergeNode in="L1"/></feMerge></filter>
<filter id="t2b" x="0" y="0" width="100%" height="100%" color-interpolation-filters="sRGB"><feTurbulence type="fractalNoise" baseFrequency="0.03" numOctaves="2" seed="5" result="n0"/><feOffset in="n0" dx="0" dy="0" result="n"/><feColorMatrix in="n" type="matrix" values="0 0 0 0 0.447 0 0 0 0 0.4 0 0 0 0 0.251 3.5 0 0 0 -1.85" result="L0"/><feColorMatrix in="n" type="matrix" values="0 0 0 0 0.863 0 0 0 0 0.8 0 0 0 0 0.596 -3.5 0 0 0 1.6" result="L1"/><feMerge><feMergeNode in="L0"/><feMergeNode in="L1"/></feMerge></filter>
<filter id="t3" x="0" y="0" width="100%" height="100%" color-interpolation-filters="sRGB"><feTurbulence type="fractalNoise" baseFrequency="0.1" numOctaves="2" seed="9" result="n0"/><feGaussianBlur in="n0" stdDeviation="0.6" result="n"/><feColorMatrix in="n" type="matrix" values="0 0 0 0 0.502 0 0 0 0 0.478 0 0 0 0 0.322 4 0 0 0 -2.35" result="L0"/><feColorMatrix in="n" type="matrix" values="0 0 0 0 0.918 0 0 0 0 0.886 0 0 0 0 0.722 -4 0 0 0 1.9" result="L1"/><feMerge><feMergeNode in="L0"/><feMergeNode in="L1"/></feMerge></filter>
<filter id="t3m" x="0" y="0" width="100%" height="100%" color-interpolation-filters="sRGB"><feTurbulence type="fractalNoise" baseFrequency="0.07" numOctaves="2" seed="33" result="n0"/><feGaussianBlur in="n0" stdDeviation="1" result="n"/><feColorMatrix in="n" type="matrix" values="0 0 0 0 0.431 0 0 0 0 0.424 0 0 0 0 0.322 4 0 0 0 -2.2" result="L0"/><feColorMatrix in="n" type="matrix" values="0 0 0 0 0.839 0 0 0 0 0.792 0 0 0 0 0.565 -4 0 0 0 1.8" result="L1"/><feMerge><feMergeNode in="L0"/><feMergeNode in="L1"/></feMerge></filter>
<filter id="t3e" x="0" y="0" width="100%" height="100%" color-interpolation-filters="sRGB"><feTurbulence type="fractalNoise" baseFrequency="0.3" numOctaves="2" seed="21" result="n0"/><feGaussianBlur in="n0" stdDeviation="0.35" result="n"/><feColorMatrix in="n" type="matrix" values="0 0 0 0 0.478 0 0 0 0 0.424 0 0 0 0 0.251 4.5 0 0 0 -2.45" result="L0"/><feColorMatrix in="n" type="matrix" values="0 0 0 0 0.867 0 0 0 0 0.816 0 0 0 0 0.588 -4.5 0 0 0 2.05" result="L1"/><feColorMatrix in="n" type="matrix" values="0 0 0 0 0.275 0 0 0 0 0.408 0 0 0 0 0.416 0 5.5 0 0 -3.5" result="L2"/><feMerge><feMergeNode in="L0"/><feMergeNode in="L1"/><feMergeNode in="L2"/></feMerge></filter>
<filter id="t4" x="0" y="0" width="100%" height="100%" color-interpolation-filters="sRGB"><feTurbulence type="fractalNoise" baseFrequency="0.06" numOctaves="3" seed="13" result="n0"/><feGaussianBlur in="n0" stdDeviation="0.8" result="n"/><feColorMatrix in="n" type="matrix" values="0 0 0 0 0.643 0 0 0 0 0.525 0 0 0 0 0.353 4 0 0 0 -2.35" result="L0"/><feColorMatrix in="n" type="matrix" values="0 0 0 0 0.886 0 0 0 0 0.8 0 0 0 0 0.635 -4 0 0 0 1.95" result="L1"/><feMerge><feMergeNode in="L0"/><feMergeNode in="L1"/></feMerge></filter>
<filter id="t5" x="0" y="0" width="100%" height="100%" color-interpolation-filters="sRGB"><feTurbulence type="fractalNoise" baseFrequency="0.26" numOctaves="2" seed="17" result="n0"/><feGaussianBlur in="n0" stdDeviation="0.5" result="n"/><feColorMatrix in="n" type="matrix" values="0 0 0 0 0.306 0 0 0 0 0.267 0 0 0 0 0.157 4.5 0 0 0 -2.45" result="L0"/><feColorMatrix in="n" type="matrix" values="0 0 0 0 0.824 0 0 0 0 0.643 0 0 0 0 0.267 -4.5 0 0 0 2.05" result="L1"/><feColorMatrix in="n" type="matrix" values="0 0 0 0 0.227 0 0 0 0 0.267 0 0 0 0 0.196 0 6 0 0 -3.9" result="L2"/><feMerge><feMergeNode in="L0"/><feMergeNode in="L1"/><feMergeNode in="L2"/></feMerge></filter>
<filter id="t5b" x="0" y="0" width="100%" height="100%" color-interpolation-filters="sRGB"><feTurbulence type="fractalNoise" baseFrequency="0.022" numOctaves="2" seed="19" result="n0"/><feOffset in="n0" dx="0" dy="0" result="n"/><feColorMatrix in="n" type="matrix" values="0 0 0 0 0.369 0 0 0 0 0.337 0 0 0 0 0.204 4 0 0 0 -1.95" result="L0"/><feColorMatrix in="n" type="matrix" values="0 0 0 0 0.722 0 0 0 0 0.62 0 0 0 0 0.314 -4 0 0 0 1.85" result="L1"/><feMerge><feMergeNode in="L0"/><feMergeNode in="L1"/></feMerge></filter>
<filter id="bl2" x="-20%" y="-20%" width="140%" height="140%"><feGaussianBlur stdDeviation="2"/></filter>
<filter id="bl4" x="-30%" y="-30%" width="160%" height="160%"><feGaussianBlur stdDeviation="4"/></filter>
<filter id="bl8" x="-50%" y="-50%" width="200%" height="200%"><feGaussianBlur stdDeviation="8"/></filter>
<filter id="bl1" x="-20%" y="-20%" width="140%" height="140%"><feGaussianBlur stdDeviation="1"/></filter>
<radialGradient id="eye" cx="0.45" cy="0.45" r="0.55"><stop offset="0" stop-color="#3a2412"/><stop offset="0.8" stop-color="#1e1208"/><stop offset="1" stop-color="#5a4a30"/></radialGradient>
</defs>
<g clip-path="url(#k1)">
<path d="M209.4 764.7 C213.5 764.9 217.5 765.3 221.5 766.0 C225.6 766.8 229.5 767.7 233.4 768.9 C237.3 770.1 241.2 771.5 245.0 773.2 C248.7 774.8 252.4 776.7 255.9 778.7 C259.5 780.8 263.0 783.1 266.3 785.5 C269.6 787.9 272.8 790.5 275.9 793.3 C279.0 796.0 282.0 798.9 284.8 802.0 C287.6 805.0 290.3 808.1 292.8 811.4 C295.4 814.6 297.8 818.0 300.1 821.4 C302.4 824.8 304.6 828.3 306.7 831.9 C308.7 835.4 310.7 839.0 312.5 842.7 C314.3 846.4 316.0 850.1 317.6 853.8 C319.3 857.6 320.8 861.4 322.2 865.2 C323.6 869.0 324.9 872.8 326.1 876.7 C327.4 880.5 328.5 884.4 329.6 888.3 C330.6 892.2 331.6 896.2 332.5 900.1 C333.4 904.0 334.2 908.0 335.0 912.0 C335.7 915.9 336.3 919.9 336.9 923.9 C337.5 928.0 338.0 932.0 338.4 936.0 C338.8 940.1 339.1 944.1 339.4 948.2 C339.6 952.3 339.8 956.3 339.9 960.4 C340.0 964.5 340.0 968.6 339.9 972.7 C339.9 976.8 339.7 980.9 339.5 985.0 C339.3 989.1 338.9 993.2 338.6 997.3 C338.2 1001.4 337.7 1005.5 337.2 1009.6 C336.7 1013.7 336.1 1017.8 335.4 1021.8 C334.8 1025.9 334.0 1029.9 333.2 1033.9 C332.4 1038.0 331.5 1042.0 330.6 1045.9 C329.7 1049.9 328.6 1053.9 327.6 1057.8 C326.5 1061.8 325.3 1065.7 324.1 1069.5 C322.8 1073.4 321.5 1077.2 320.1 1081.0 C318.7 1084.8 317.2 1088.6 315.6 1092.3 C314.0 1096.1 312.3 1099.7 310.5 1103.3 C308.7 1107.0 306.8 1110.5 304.8 1114.0 C302.7 1117.5 300.6 1120.9 298.3 1124.3 C296.0 1127.6 293.6 1130.9 291.1 1134.0 C288.5 1137.2 285.8 1140.3 283.0 1143.2 C280.2 1146.1 277.2 1148.9 274.2 1151.6 C271.1 1154.3 267.8 1156.8 264.5 1159.2 C261.1 1161.5 257.6 1163.8 254.0 1165.8 C250.4 1167.8 246.7 1169.6 242.9 1171.3 C239.1 1172.9 235.2 1174.3 231.2 1175.5 C227.2 1176.7 223.2 1177.7 219.1 1178.4 C215.0 1179.2 210.9 1179.7 206.7 1180.0 C202.6 1180.3 198.4 1180.3 194.3 1180.1 C190.2 1179.9 186.1 1179.5 182.1 1178.8 C178.0 1178.1 174.0 1177.2 170.1 1176.1 C166.2 1175.0 162.3 1173.6 158.6 1172.0 C154.8 1170.4 151.2 1168.6 147.6 1166.6 C144.1 1164.7 140.7 1162.5 137.4 1160.1 C134.1 1157.8 130.9 1155.2 127.9 1152.6 C124.9 1149.9 122.0 1147.1 119.2 1144.1 C116.4 1141.2 113.8 1138.1 111.3 1134.9 C108.8 1131.7 106.4 1128.4 104.1 1125.0 C101.9 1121.6 99.7 1118.1 97.7 1114.6 C95.7 1111.0 93.7 1107.4 91.9 1103.8 C90.1 1100.1 88.4 1096.4 86.7 1092.6 C85.1 1088.8 83.5 1085.0 82.1 1081.2 C80.6 1077.3 79.2 1073.5 77.9 1069.6 C76.6 1065.7 75.4 1061.7 74.3 1057.8 C73.1 1053.9 72.1 1049.9 71.1 1045.9 C70.1 1041.9 69.2 1037.9 68.4 1033.9 C67.6 1029.9 66.8 1025.9 66.2 1021.8 C65.5 1017.8 64.9 1013.8 64.4 1009.7 C64.0 1005.7 63.6 1001.6 63.3 997.5 C63.0 993.5 62.7 989.4 62.6 985.3 C62.5 981.3 62.5 977.2 62.6 973.2 C62.6 969.1 62.8 965.0 63.1 961.0 C63.3 957.0 63.7 952.9 64.1 948.9 C64.6 944.9 65.1 940.8 65.7 936.8 C66.3 932.8 67.1 928.8 67.8 924.8 C68.6 920.9 69.5 916.9 70.4 912.9 C71.4 909.0 72.4 905.1 73.5 901.1 C74.6 897.2 75.8 893.3 77.0 889.4 C78.3 885.6 79.6 881.7 81.0 877.8 C82.3 874.0 83.8 870.2 85.3 866.4 C86.9 862.6 88.5 858.8 90.2 855.1 C91.9 851.3 93.7 847.6 95.6 844.0 C97.4 840.3 99.4 836.7 101.5 833.1 C103.6 829.6 105.7 826.1 108.0 822.7 C110.3 819.2 112.7 815.9 115.2 812.6 C117.7 809.4 120.4 806.2 123.1 803.2 C125.9 800.1 128.8 797.2 131.8 794.4 C134.8 791.7 138.0 789.0 141.2 786.5 C144.5 784.1 147.9 781.8 151.3 779.7 C154.8 777.5 158.4 775.6 162.1 773.9 C165.8 772.2 169.6 770.7 173.4 769.5 C177.3 768.2 181.2 767.2 185.2 766.4 C189.2 765.6 193.2 765.1 197.3 764.8 C201.3 764.5 205.4 764.4 209.4 764.7Z" fill="#dccdaa"/>
<rect x="-12.0" y="759.3" width="425.0" height="425.0" filter="url(#t1b)" opacity="0.6"/>
<rect x="-12.0" y="759.3" width="425.0" height="425.0" filter="url(#t1m)" opacity="0.85"/>
<rect x="-12.0" y="759.3" width="425.0" height="425.0" filter="url(#t1)" opacity="0.9"/>
<path d="M209.1 770.1 C213.0 770.4 216.8 770.8 220.6 771.5 C224.4 772.1 228.1 773.0 231.8 774.2 C235.5 775.3 239.2 776.7 242.7 778.2 C246.3 779.8 249.8 781.6 253.2 783.5 C256.6 785.5 259.9 787.6 263.0 789.9 C266.2 792.3 269.3 794.8 272.3 797.4 C275.2 800.0 278.0 802.8 280.8 805.7 C283.5 808.6 286.1 811.7 288.5 814.8 C291.0 817.9 293.3 821.1 295.6 824.5 C297.8 827.8 299.9 831.2 301.9 834.6 C303.9 838.1 305.8 841.6 307.6 845.2 C309.3 848.7 311.0 852.4 312.6 856.0 C314.2 859.7 315.6 863.4 317.0 867.1 C318.4 870.8 319.7 874.6 320.9 878.4 C322.1 882.1 323.2 885.9 324.3 889.8 C325.3 893.6 326.3 897.4 327.2 901.3 C328.0 905.2 328.8 909.1 329.5 913.0 C330.3 916.9 330.9 920.8 331.5 924.7 C332.0 928.7 332.5 932.6 332.9 936.6 C333.3 940.5 333.6 944.5 333.9 948.5 C334.1 952.5 334.3 956.5 334.4 960.5 C334.5 964.6 334.5 968.6 334.4 972.6 C334.4 976.6 334.2 980.7 334.0 984.7 C333.8 988.7 333.5 992.8 333.1 996.8 C332.7 1000.8 332.3 1004.9 331.8 1008.9 C331.2 1012.9 330.7 1016.9 330.0 1020.9 C329.3 1024.9 328.6 1028.9 327.8 1032.9 C327.0 1036.8 326.2 1040.8 325.2 1044.7 C324.3 1048.6 323.3 1052.5 322.3 1056.4 C321.2 1060.2 320.0 1064.1 318.8 1067.9 C317.6 1071.6 316.3 1075.4 314.9 1079.1 C313.6 1082.9 312.1 1086.5 310.5 1090.2 C309.0 1093.8 307.3 1097.4 305.6 1100.9 C303.8 1104.4 302.0 1107.9 300.0 1111.2 C298.0 1114.6 296.0 1118.0 293.8 1121.2 C291.6 1124.4 289.2 1127.5 286.8 1130.6 C284.3 1133.6 281.8 1136.6 279.1 1139.4 C276.4 1142.2 273.5 1144.9 270.6 1147.4 C267.6 1150.0 264.5 1152.4 261.3 1154.7 C258.1 1156.9 254.8 1159.1 251.3 1161.0 C247.9 1162.9 244.3 1164.6 240.7 1166.2 C237.1 1167.7 233.4 1169.1 229.6 1170.2 C225.8 1171.4 222.0 1172.3 218.1 1173.0 C214.2 1173.8 210.3 1174.2 206.4 1174.5 C202.4 1174.8 198.5 1174.8 194.6 1174.6 C190.7 1174.4 186.8 1174.0 183.0 1173.4 C179.1 1172.7 175.3 1171.9 171.6 1170.8 C167.9 1169.7 164.2 1168.4 160.7 1166.9 C157.1 1165.4 153.7 1163.7 150.3 1161.9 C147.0 1160.0 143.7 1157.9 140.6 1155.7 C137.5 1153.4 134.4 1151.0 131.5 1148.4 C128.7 1145.9 125.9 1143.2 123.2 1140.3 C120.6 1137.5 118.0 1134.5 115.6 1131.5 C113.2 1128.4 110.9 1125.2 108.7 1121.9 C106.5 1118.7 104.4 1115.3 102.5 1111.8 C100.5 1108.4 98.6 1104.9 96.8 1101.3 C95.0 1097.7 93.4 1094.1 91.8 1090.4 C90.2 1086.7 88.6 1083.0 87.2 1079.2 C85.8 1075.5 84.4 1071.7 83.2 1067.8 C81.9 1064.0 80.7 1060.1 79.6 1056.3 C78.4 1052.4 77.4 1048.5 76.4 1044.6 C75.5 1040.7 74.6 1036.7 73.8 1032.8 C73.0 1028.9 72.2 1024.9 71.6 1021.0 C70.9 1017.0 70.4 1013.0 69.9 1009.1 C69.4 1005.1 69.0 1001.1 68.7 997.1 C68.4 993.1 68.2 989.2 68.1 985.2 C68.0 981.2 68.0 977.2 68.1 973.3 C68.1 969.3 68.3 965.3 68.6 961.4 C68.8 957.4 69.2 953.4 69.6 949.5 C70.0 945.5 70.6 941.6 71.2 937.7 C71.8 933.7 72.5 929.8 73.2 925.9 C74.0 922.0 74.9 918.1 75.8 914.2 C76.7 910.3 77.7 906.5 78.8 902.6 C79.9 898.8 81.0 894.9 82.2 891.1 C83.5 887.3 84.8 883.5 86.1 879.7 C87.5 875.9 88.9 872.2 90.4 868.4 C91.9 864.7 93.5 861.0 95.2 857.4 C96.9 853.7 98.6 850.1 100.4 846.5 C102.3 842.9 104.2 839.4 106.2 835.9 C108.2 832.5 110.4 829.0 112.6 825.7 C114.8 822.4 117.1 819.1 119.6 816.0 C122.0 812.9 124.6 809.8 127.2 806.9 C129.9 804.0 132.6 801.1 135.5 798.5 C138.4 795.8 141.4 793.3 144.5 790.9 C147.6 788.6 150.9 786.4 154.2 784.4 C157.5 782.4 160.9 780.5 164.4 778.9 C167.9 777.3 171.5 775.9 175.1 774.7 C178.8 773.5 182.5 772.5 186.3 771.8 C190.0 771.0 193.8 770.5 197.6 770.3 C201.5 770.0 205.3 769.9 209.1 770.1Z" fill="none" stroke="#e6dcc0" stroke-width="5" opacity="0.6"/>
</g>
<path d="M209.4 766.0 C213.4 766.2 217.4 766.6 221.3 767.3 C225.3 768.0 229.2 769.0 233.1 770.2 C236.9 771.3 240.7 772.8 244.4 774.4 C248.1 776.0 251.8 777.8 255.3 779.9 C258.8 781.9 262.2 784.2 265.5 786.5 C268.8 788.9 272.0 791.5 275.0 794.3 C278.1 797.0 281.0 799.9 283.8 802.8 C286.6 805.8 289.3 809.0 291.8 812.2 C294.4 815.4 296.8 818.7 299.1 822.1 C301.3 825.5 303.5 829.0 305.5 832.5 C307.6 836.0 309.5 839.7 311.3 843.3 C313.1 846.9 314.8 850.6 316.4 854.4 C318.1 858.1 319.5 861.8 321.0 865.6 C322.4 869.4 323.7 873.2 324.9 877.1 C326.1 880.9 327.3 884.8 328.3 888.7 C329.4 892.6 330.4 896.5 331.2 900.4 C332.1 904.3 332.9 908.2 333.7 912.2 C334.4 916.2 335.1 920.1 335.6 924.1 C336.2 928.1 336.7 932.1 337.1 936.2 C337.5 940.2 337.8 944.2 338.1 948.3 C338.3 952.3 338.5 956.4 338.6 960.4 C338.7 964.5 338.7 968.6 338.6 972.7 C338.6 976.8 338.4 980.9 338.2 984.9 C338.0 989.0 337.7 993.1 337.3 997.2 C336.9 1001.3 336.4 1005.4 335.9 1009.4 C335.4 1013.5 334.8 1017.6 334.1 1021.6 C333.5 1025.6 332.8 1029.7 331.9 1033.7 C331.1 1037.7 330.3 1041.7 329.3 1045.6 C328.4 1049.6 327.4 1053.6 326.3 1057.5 C325.2 1061.4 324.1 1065.3 322.8 1069.1 C321.6 1073.0 320.3 1076.8 318.9 1080.6 C317.5 1084.4 316.0 1088.1 314.4 1091.8 C312.8 1095.5 311.1 1099.2 309.3 1102.8 C307.6 1106.4 305.7 1109.9 303.6 1113.4 C301.6 1116.8 299.5 1120.2 297.2 1123.5 C295.0 1126.9 292.6 1130.1 290.1 1133.2 C287.5 1136.3 284.9 1139.4 282.1 1142.3 C279.3 1145.2 276.4 1148.0 273.3 1150.6 C270.2 1153.3 267.0 1155.8 263.7 1158.1 C260.4 1160.5 256.9 1162.6 253.4 1164.6 C249.8 1166.6 246.1 1168.5 242.4 1170.1 C238.6 1171.7 234.7 1173.1 230.8 1174.3 C226.9 1175.5 222.9 1176.4 218.8 1177.2 C214.8 1177.9 210.7 1178.4 206.6 1178.7 C202.6 1179.0 198.5 1179.0 194.4 1178.8 C190.3 1178.6 186.3 1178.2 182.3 1177.5 C178.3 1176.9 174.3 1176.0 170.4 1174.8 C166.6 1173.7 162.8 1172.4 159.1 1170.8 C155.4 1169.3 151.7 1167.5 148.3 1165.5 C144.8 1163.6 141.4 1161.4 138.1 1159.1 C134.9 1156.8 131.8 1154.2 128.8 1151.6 C125.8 1149.0 122.9 1146.1 120.2 1143.2 C117.4 1140.3 114.8 1137.2 112.3 1134.1 C109.8 1130.9 107.5 1127.6 105.2 1124.3 C103.0 1120.9 100.8 1117.4 98.8 1113.9 C96.8 1110.4 94.9 1106.8 93.1 1103.2 C91.2 1099.5 89.5 1095.8 87.9 1092.1 C86.3 1088.3 84.7 1084.5 83.3 1080.7 C81.8 1076.9 80.5 1073.0 79.2 1069.2 C77.9 1065.3 76.7 1061.4 75.5 1057.4 C74.4 1053.5 73.3 1049.6 72.4 1045.6 C71.4 1041.6 70.5 1037.6 69.7 1033.6 C68.8 1029.7 68.1 1025.6 67.4 1021.6 C66.8 1017.6 66.2 1013.6 65.7 1009.5 C65.2 1005.5 64.9 1001.5 64.6 997.4 C64.2 993.4 64.0 989.4 63.9 985.3 C63.8 981.3 63.8 977.2 63.9 973.2 C63.9 969.1 64.1 965.1 64.4 961.1 C64.6 957.1 65.0 953.0 65.4 949.0 C65.9 945.0 66.4 941.0 67.0 937.0 C67.6 933.0 68.3 929.1 69.1 925.1 C69.9 921.1 70.8 917.2 71.7 913.2 C72.6 909.3 73.7 905.4 74.8 901.5 C75.8 897.6 77.0 893.7 78.2 889.8 C79.5 886.0 80.8 882.1 82.2 878.3 C83.6 874.5 85.0 870.6 86.5 866.9 C88.1 863.1 89.7 859.3 91.4 855.6 C93.1 851.9 94.8 848.2 96.7 844.6 C98.6 840.9 100.5 837.3 102.6 833.8 C104.7 830.3 106.8 826.8 109.1 823.4 C111.4 820.0 113.7 816.6 116.3 813.4 C118.8 810.2 121.4 807.1 124.1 804.0 C126.8 801.0 129.7 798.1 132.7 795.4 C135.7 792.6 138.8 790.0 142.0 787.6 C145.2 785.1 148.6 782.8 152.0 780.8 C155.4 778.7 159.0 776.8 162.6 775.1 C166.3 773.4 170.0 771.9 173.8 770.7 C177.6 769.5 181.5 768.4 185.5 767.7 C189.4 766.9 193.4 766.4 197.3 766.1 C201.3 765.8 205.4 765.7 209.4 766.0Z" fill="none" stroke="#8a6226" stroke-width="2.4"/>
<path d="M209.2 768.7 C213.1 768.9 217.0 769.3 220.9 770.0 C224.7 770.7 228.5 771.6 232.3 772.7 C236.0 773.9 239.7 775.3 243.3 776.8 C247.0 778.4 250.5 780.2 253.9 782.2 C257.4 784.2 260.7 786.4 263.9 788.7 C267.2 791.1 270.3 793.6 273.3 796.3 C276.2 798.9 279.1 801.8 281.9 804.7 C284.6 807.6 287.2 810.7 289.7 813.8 C292.2 817.0 294.6 820.3 296.8 823.6 C299.1 827.0 301.2 830.4 303.2 833.9 C305.2 837.3 307.1 840.9 308.9 844.5 C310.7 848.1 312.4 851.7 314.0 855.4 C315.6 859.1 317.0 862.8 318.4 866.6 C319.8 870.3 321.1 874.1 322.3 877.9 C323.6 881.7 324.7 885.5 325.7 889.4 C326.8 893.2 327.7 897.1 328.6 901.0 C329.5 904.9 330.3 908.8 331.0 912.7 C331.7 916.6 332.4 920.6 333.0 924.5 C333.5 928.5 334.0 932.4 334.4 936.4 C334.8 940.4 335.1 944.4 335.4 948.4 C335.6 952.4 335.8 956.5 335.9 960.5 C336.0 964.5 336.0 968.6 335.9 972.6 C335.9 976.7 335.7 980.7 335.5 984.8 C335.3 988.8 335.0 992.9 334.6 997.0 C334.2 1001.0 333.8 1005.1 333.2 1009.1 C332.7 1013.1 332.1 1017.2 331.5 1021.2 C330.8 1025.2 330.1 1029.2 329.3 1033.2 C328.5 1037.1 327.6 1041.1 326.7 1045.0 C325.8 1049.0 324.8 1052.9 323.7 1056.8 C322.6 1060.6 321.5 1064.5 320.3 1068.3 C319.0 1072.1 317.7 1075.9 316.3 1079.7 C315.0 1083.4 313.5 1087.1 311.9 1090.8 C310.4 1094.4 308.7 1098.0 306.9 1101.6 C305.2 1105.1 303.3 1108.6 301.3 1112.0 C299.3 1115.4 297.2 1118.8 295.0 1122.0 C292.8 1125.3 290.4 1128.5 288.0 1131.5 C285.5 1134.6 282.9 1137.6 280.1 1140.4 C277.4 1143.3 274.5 1146.0 271.5 1148.6 C268.5 1151.2 265.4 1153.6 262.2 1155.9 C258.9 1158.2 255.5 1160.3 252.1 1162.3 C248.6 1164.2 245.0 1166.0 241.3 1167.6 C237.6 1169.1 233.9 1170.5 230.0 1171.7 C226.2 1172.8 222.3 1173.8 218.4 1174.5 C214.4 1175.2 210.4 1175.7 206.5 1176.0 C202.5 1176.3 198.5 1176.3 194.5 1176.1 C190.6 1175.9 186.6 1175.5 182.7 1174.9 C178.8 1174.2 175.0 1173.3 171.2 1172.2 C167.4 1171.2 163.7 1169.8 160.1 1168.3 C156.5 1166.8 153.0 1165.1 149.6 1163.2 C146.2 1161.3 142.9 1159.1 139.7 1156.9 C136.5 1154.6 133.5 1152.2 130.6 1149.6 C127.6 1147.0 124.8 1144.2 122.1 1141.4 C119.4 1138.5 116.9 1135.5 114.4 1132.4 C112.0 1129.3 109.7 1126.1 107.5 1122.8 C105.2 1119.5 103.2 1116.0 101.2 1112.6 C99.2 1109.1 97.3 1105.6 95.5 1102.0 C93.7 1098.4 92.0 1094.7 90.4 1091.0 C88.8 1087.3 87.2 1083.5 85.8 1079.8 C84.4 1076.0 83.0 1072.2 81.7 1068.3 C80.4 1064.5 79.2 1060.6 78.1 1056.7 C77.0 1052.8 75.9 1048.9 75.0 1044.9 C74.0 1041.0 73.1 1037.1 72.3 1033.1 C71.5 1029.1 70.7 1025.2 70.1 1021.2 C69.5 1017.2 68.9 1013.2 68.4 1009.2 C67.9 1005.2 67.5 1001.2 67.2 997.2 C66.9 993.2 66.7 989.2 66.6 985.2 C66.5 981.2 66.5 977.2 66.6 973.2 C66.6 969.2 66.8 965.2 67.1 961.3 C67.3 957.3 67.7 953.3 68.1 949.3 C68.5 945.4 69.1 941.4 69.7 937.4 C70.3 933.5 71.0 929.5 71.8 925.6 C72.5 921.7 73.4 917.8 74.3 913.9 C75.3 910.0 76.3 906.1 77.4 902.2 C78.4 898.3 79.6 894.5 80.8 890.7 C82.0 886.8 83.3 883.0 84.7 879.2 C86.1 875.4 87.5 871.6 89.0 867.9 C90.6 864.1 92.2 860.4 93.8 856.7 C95.5 853.1 97.3 849.4 99.1 845.8 C101.0 842.2 102.9 838.6 104.9 835.2 C107.0 831.7 109.1 828.2 111.3 824.9 C113.6 821.5 115.9 818.3 118.4 815.1 C120.8 811.9 123.4 808.8 126.1 805.9 C128.8 802.9 131.6 800.1 134.5 797.4 C137.4 794.7 140.5 792.1 143.6 789.7 C146.8 787.3 150.0 785.1 153.4 783.1 C156.8 781.0 160.2 779.2 163.8 777.6 C167.3 775.9 171.0 774.5 174.7 773.3 C178.4 772.1 182.2 771.1 186.0 770.3 C189.8 769.6 193.7 769.0 197.5 768.8 C201.4 768.5 205.3 768.4 209.2 768.7Z" fill="none" stroke="#b4954c" stroke-width="1.2" opacity="0.8"/>
<g clip-path="url(#k2)">
<path d="M530.5 743.2 C534.5 743.2 538.5 743.6 542.4 744.2 C546.4 744.8 550.3 745.8 554.1 747.0 C557.9 748.2 561.6 749.8 565.2 751.5 C568.8 753.3 572.3 755.4 575.6 757.7 C578.9 759.9 582.1 762.5 585.1 765.2 C588.1 767.9 591.0 770.8 593.6 773.9 C596.3 776.9 598.8 780.2 601.2 783.5 C603.5 786.8 605.7 790.3 607.7 793.8 C609.8 797.3 611.6 801.0 613.4 804.6 C615.1 808.3 616.7 812.0 618.2 815.8 C619.7 819.5 621.0 823.3 622.3 827.1 C623.6 830.9 624.7 834.7 625.8 838.6 C626.9 842.4 628.0 846.2 628.9 850.1 C629.9 853.9 630.8 857.8 631.6 861.6 C632.4 865.5 633.2 869.4 634.0 873.3 C634.7 877.2 635.4 881.1 636.0 885.0 C636.7 888.9 637.3 892.9 637.8 896.9 C638.3 900.8 638.8 904.8 639.3 908.8 C639.7 912.8 640.1 916.9 640.4 920.9 C640.7 925.0 641.0 929.1 641.1 933.2 C641.3 937.3 641.4 941.4 641.4 945.5 C641.5 949.6 641.4 953.7 641.3 957.8 C641.2 961.9 641.0 966.0 640.7 970.1 C640.5 974.2 640.1 978.3 639.7 982.3 C639.3 986.4 638.9 990.4 638.4 994.4 C637.8 998.4 637.3 1002.3 636.6 1006.3 C636.0 1010.2 635.4 1014.1 634.7 1018.0 C634.0 1021.9 633.3 1025.7 632.5 1029.6 C631.8 1033.4 631.0 1037.2 630.2 1041.0 C629.4 1044.8 628.6 1048.6 627.8 1052.4 C626.9 1056.2 626.1 1060.0 625.2 1063.9 C624.3 1067.7 623.4 1071.5 622.4 1075.4 C621.4 1079.2 620.4 1083.1 619.3 1087.0 C618.3 1090.8 617.1 1094.7 615.9 1098.7 C614.7 1102.6 613.4 1106.5 611.9 1110.4 C610.5 1114.3 609.0 1118.2 607.3 1122.1 C605.7 1126.0 603.9 1129.8 602.0 1133.6 C600.0 1137.3 597.9 1141.1 595.7 1144.6 C593.4 1148.2 591.0 1151.7 588.5 1155.0 C585.9 1158.3 583.2 1161.5 580.3 1164.4 C577.4 1167.3 574.4 1170.1 571.2 1172.6 C568.1 1175.0 564.7 1177.3 561.3 1179.2 C557.9 1181.1 554.4 1182.7 550.8 1184.0 C547.2 1185.3 543.5 1186.3 539.8 1186.9 C536.1 1187.5 532.3 1187.8 528.6 1187.7 C524.9 1187.6 521.1 1187.2 517.4 1186.4 C513.8 1185.6 510.1 1184.5 506.6 1183.0 C503.0 1181.6 499.5 1179.8 496.2 1177.8 C492.8 1175.7 489.6 1173.3 486.5 1170.7 C483.4 1168.2 480.4 1165.3 477.6 1162.2 C474.8 1159.2 472.2 1155.9 469.6 1152.6 C467.1 1149.2 464.8 1145.6 462.6 1142.0 C460.4 1138.3 458.4 1134.6 456.4 1130.8 C454.5 1127.0 452.7 1123.1 451.1 1119.2 C449.4 1115.3 447.9 1111.4 446.4 1107.5 C444.9 1103.6 443.6 1099.6 442.3 1095.8 C441.0 1091.9 439.8 1088.0 438.6 1084.1 C437.5 1080.3 436.4 1076.5 435.3 1072.6 C434.2 1068.8 433.2 1065.1 432.2 1061.3 C431.2 1057.5 430.2 1053.8 429.3 1050.0 C428.3 1046.2 427.4 1042.5 426.5 1038.7 C425.6 1034.9 424.7 1031.2 423.9 1027.4 C423.1 1023.5 422.2 1019.7 421.5 1015.9 C420.7 1012.0 420.0 1008.1 419.4 1004.2 C418.7 1000.3 418.1 996.3 417.6 992.3 C417.0 988.3 416.5 984.3 416.1 980.2 C415.8 976.2 415.4 972.1 415.2 968.0 C414.9 963.9 414.8 959.8 414.7 955.6 C414.6 951.5 414.6 947.4 414.7 943.2 C414.8 939.1 414.9 935.0 415.1 930.8 C415.4 926.7 415.7 922.6 416.0 918.6 C416.4 914.5 416.8 910.4 417.3 906.4 C417.8 902.4 418.3 898.4 418.9 894.4 C419.5 890.4 420.1 886.5 420.8 882.6 C421.5 878.7 422.2 874.8 423.0 870.9 C423.8 867.1 424.6 863.2 425.5 859.4 C426.4 855.6 427.3 851.8 428.3 848.0 C429.3 844.2 430.4 840.4 431.6 836.6 C432.7 832.9 434.0 829.1 435.3 825.4 C436.7 821.7 438.1 817.9 439.7 814.3 C441.3 810.6 443.0 806.9 444.8 803.3 C446.7 799.8 448.7 796.2 450.8 792.8 C453.0 789.3 455.3 785.9 457.8 782.6 C460.3 779.4 462.9 776.2 465.7 773.2 C468.6 770.2 471.5 767.3 474.7 764.7 C477.8 762.0 481.1 759.5 484.6 757.3 C488.0 755.1 491.6 753.0 495.3 751.3 C499.0 749.6 502.8 748.1 506.6 746.9 C510.5 745.7 514.5 744.7 518.5 744.1 C522.4 743.5 526.5 743.2 530.5 743.2Z" fill="#b8a872"/>
<rect x="298.2" y="738.0" width="458.0" height="458.0" filter="url(#t2b)" opacity="0.6"/>
<ellipse cx="526" cy="1018" rx="48" ry="60" fill="#5e5434" opacity="0.5" filter="url(#bl8)"/>
<ellipse cx="520" cy="900" rx="40" ry="50" fill="#8a7a50" opacity="0.3" filter="url(#bl8)"/>
<rect x="298.2" y="738.0" width="458.0" height="458.0" filter="url(#t2m)" opacity="0.6"/>
<rect x="298.2" y="738.0" width="458.0" height="458.0" filter="url(#t2)" opacity="0.8"/>
<ellipse cx="546.4" cy="801.1" rx="50.5" ry="43.2" fill="#2a220e" opacity="0.72" filter="url(#bl1)"/>
<ellipse cx="592.7" cy="862.3" rx="22.5" ry="28.5" fill="#2a220e" opacity="0.51" filter="url(#bl1)"/>
<ellipse cx="601.9" cy="931.0" rx="27.5" ry="40.5" fill="#2a220e" opacity="0.47" filter="url(#bl1)"/>
<ellipse cx="592.7" cy="1020.9" rx="33.0" ry="47.5" fill="#2a220e" opacity="0.59" filter="url(#bl1)"/>
<ellipse cx="592.7" cy="1082.5" rx="25.5" ry="21.5" fill="#2a220e" opacity="0.42" filter="url(#bl1)"/>
<ellipse cx="539" cy="1142.5" rx="55.5" ry="51.5" fill="#2a220e" opacity="0.64" filter="url(#bl1)"/>
<ellipse cx="470.3" cy="1112.5" rx="25.5" ry="29.5" fill="#2a220e" opacity="0.42" filter="url(#bl1)"/>
<ellipse cx="442.5" cy="889.5" rx="23.5" ry="40.5" fill="#2a220e" opacity="0.38" filter="url(#bl1)"/>
<ellipse cx="446" cy="966.5" rx="27.5" ry="31.5" fill="#2a220e" opacity="0.34" filter="url(#bl1)"/>
<ellipse cx="457" cy="1032.5" rx="31.5" ry="34.5" fill="#2a220e" opacity="0.38" filter="url(#bl1)"/>
<ellipse cx="480.6" cy="830.5" rx="40.5" ry="29.5" fill="#2a220e" opacity="0.34" filter="url(#bl1)"/>
<g clip-path="url(#klobes)" opacity="0.85">
<rect x="405" y="735" width="245" height="465" fill="#d6c896"/>
<rect x="298.2" y="738.0" width="458.0" height="458.0" filter="url(#t2s)" opacity="0.9"/>
<ellipse cx="554.3" cy="793.6" rx="31.9" ry="27.1" fill="#e0d0a0" opacity="0.5" filter="url(#bl4)"/>
<ellipse cx="597.2" cy="856.6" rx="13.7" ry="17.6" fill="#e0d0a0" opacity="0.5" filter="url(#bl4)"/>
<ellipse cx="607.0" cy="923.8" rx="16.9" ry="25.4" fill="#e0d0a0" opacity="0.5" filter="url(#bl4)"/>
<ellipse cx="598.5" cy="1012.9" rx="20.5" ry="29.9" fill="#e0d0a0" opacity="0.5" filter="url(#bl4)"/>
<ellipse cx="597.6" cy="1077.6" rx="15.6" ry="13.0" fill="#e0d0a0" opacity="0.5" filter="url(#bl4)"/>
<ellipse cx="547.5" cy="1134.0" rx="35.1" ry="32.5" fill="#e0d0a0" opacity="0.5" filter="url(#bl4)"/>
<ellipse cx="475.2" cy="1106.6" rx="15.6" ry="18.2" fill="#e0d0a0" opacity="0.5" filter="url(#bl4)"/>
<ellipse cx="447.1" cy="882.3" rx="14.3" ry="25.4" fill="#e0d0a0" opacity="0.5" filter="url(#bl4)"/>
<ellipse cx="451.1" cy="960.4" rx="16.9" ry="19.5" fill="#e0d0a0" opacity="0.5" filter="url(#bl4)"/>
<ellipse cx="462.6" cy="1026.0" rx="19.5" ry="21.4" fill="#e0d0a0" opacity="0.5" filter="url(#bl4)"/>
<ellipse cx="487.3" cy="824.6" rx="25.4" ry="18.2" fill="#e0d0a0" opacity="0.5" filter="url(#bl4)"/>
</g>
<rect x="298.2" y="738.0" width="458.0" height="458.0" filter="url(#t2)" opacity="0.4"/>
<path d="M462 830 Q480 785 525 752 Q510 770 505 790 Q500 815 470 830Z" fill="#d2c296" opacity="0.7" filter="url(#bl2)"/>
<path d="M445 1110 Q470 1170 520 1185" fill="none" stroke="#2e2410" stroke-width="5" opacity="0.6" filter="url(#bl2)"/>
</g>
<path d="M530.5 744.5 C534.4 744.5 538.4 744.9 542.2 745.5 C546.1 746.1 550.0 747.0 553.7 748.2 C557.4 749.4 561.1 750.9 564.6 752.7 C568.2 754.4 571.6 756.5 574.9 758.7 C578.1 761.0 581.3 763.5 584.2 766.1 C587.2 768.8 590.0 771.7 592.7 774.7 C595.3 777.7 597.8 780.9 600.1 784.2 C602.4 787.5 604.6 791.0 606.6 794.4 C608.6 797.9 610.5 801.5 612.2 805.2 C613.9 808.8 615.5 812.5 617.0 816.2 C618.5 820.0 619.8 823.7 621.1 827.5 C622.3 831.3 623.5 835.1 624.6 838.9 C625.7 842.7 626.7 846.6 627.6 850.4 C628.6 854.2 629.5 858.1 630.3 861.9 C631.2 865.8 631.9 869.6 632.7 873.5 C633.4 877.4 634.1 881.3 634.7 885.2 C635.4 889.1 636.0 893.1 636.5 897.0 C637.1 901.0 637.5 905.0 638.0 909.0 C638.4 913.0 638.8 917.0 639.1 921.0 C639.4 925.1 639.7 929.1 639.8 933.2 C640.0 937.3 640.1 941.4 640.1 945.5 C640.2 949.6 640.1 953.7 640.0 957.8 C639.9 961.9 639.7 966.0 639.4 970.0 C639.2 974.1 638.8 978.2 638.4 982.2 C638.0 986.2 637.6 990.2 637.1 994.2 C636.5 998.2 636.0 1002.1 635.4 1006.1 C634.8 1010.0 634.1 1013.9 633.4 1017.8 C632.7 1021.6 632.0 1025.5 631.3 1029.3 C630.5 1033.2 629.7 1037.0 628.9 1040.8 C628.1 1044.6 627.3 1048.4 626.5 1052.2 C625.7 1056.0 624.8 1059.8 623.9 1063.6 C623.0 1067.4 622.1 1071.2 621.1 1075.0 C620.2 1078.9 619.2 1082.7 618.1 1086.6 C617.0 1090.5 615.9 1094.4 614.7 1098.3 C613.4 1102.2 612.1 1106.1 610.7 1110.0 C609.3 1113.8 607.8 1117.8 606.1 1121.6 C604.5 1125.4 602.7 1129.3 600.8 1133.0 C598.9 1136.7 596.8 1140.4 594.6 1144.0 C592.4 1147.5 590.0 1151.0 587.5 1154.2 C584.9 1157.5 582.2 1160.6 579.4 1163.5 C576.5 1166.4 573.5 1169.1 570.4 1171.5 C567.3 1174.0 564.1 1176.2 560.7 1178.0 C557.4 1179.9 553.9 1181.5 550.4 1182.8 C546.8 1184.1 543.2 1185.0 539.6 1185.6 C536.0 1186.2 532.3 1186.5 528.6 1186.4 C525.0 1186.3 521.3 1185.9 517.7 1185.1 C514.1 1184.4 510.5 1183.3 507.0 1181.8 C503.6 1180.4 500.1 1178.7 496.9 1176.7 C493.6 1174.6 490.4 1172.3 487.3 1169.7 C484.3 1167.2 481.3 1164.4 478.6 1161.4 C475.8 1158.4 473.2 1155.1 470.7 1151.8 C468.2 1148.4 465.9 1144.9 463.7 1141.3 C461.5 1137.7 459.5 1133.9 457.6 1130.2 C455.7 1126.4 453.9 1122.5 452.3 1118.7 C450.6 1114.8 449.1 1110.9 447.6 1107.0 C446.2 1103.1 444.8 1099.2 443.5 1095.3 C442.2 1091.5 441.0 1087.6 439.9 1083.8 C438.7 1079.9 437.6 1076.1 436.5 1072.3 C435.5 1068.5 434.4 1064.7 433.4 1060.9 C432.4 1057.2 431.5 1053.4 430.5 1049.7 C429.6 1045.9 428.6 1042.2 427.8 1038.4 C426.9 1034.6 426.0 1030.9 425.2 1027.1 C424.3 1023.3 423.5 1019.5 422.8 1015.6 C422.0 1011.8 421.3 1007.9 420.6 1004.0 C420.0 1000.1 419.4 996.1 418.8 992.1 C418.3 988.2 417.8 984.1 417.4 980.1 C417.0 976.1 416.7 972.0 416.5 967.9 C416.2 963.8 416.1 959.7 416.0 955.6 C415.9 951.5 415.9 947.4 416.0 943.2 C416.1 939.1 416.2 935.0 416.4 930.9 C416.7 926.8 417.0 922.7 417.3 918.7 C417.7 914.6 418.1 910.6 418.6 906.6 C419.1 902.5 419.6 898.6 420.2 894.6 C420.8 890.6 421.4 886.7 422.1 882.8 C422.8 878.9 423.5 875.0 424.3 871.2 C425.0 867.3 425.9 863.5 426.8 859.7 C427.6 855.9 428.6 852.1 429.6 848.3 C430.6 844.5 431.6 840.8 432.8 837.0 C434.0 833.3 435.2 829.5 436.5 825.8 C437.9 822.1 439.3 818.4 440.9 814.8 C442.5 811.1 444.2 807.5 446.0 803.9 C447.8 800.4 449.8 796.9 451.9 793.4 C454.1 790.0 456.4 786.7 458.8 783.4 C461.3 780.2 463.9 777.1 466.7 774.1 C469.5 771.1 472.4 768.3 475.5 765.7 C478.6 763.1 481.9 760.6 485.3 758.4 C488.7 756.2 492.2 754.2 495.8 752.5 C499.5 750.8 503.2 749.3 507.0 748.1 C510.8 746.9 514.8 746.0 518.7 745.4 C522.6 744.8 526.5 744.5 530.5 744.5Z" fill="none" stroke="#6e5a36" stroke-width="2.4"/>
<path d="M530.5 747.2 C534.3 747.2 538.1 747.5 541.8 748.1 C545.6 748.7 549.3 749.6 552.9 750.8 C556.5 752.0 560.0 753.4 563.4 755.1 C566.9 756.8 570.2 758.8 573.3 761.0 C576.5 763.1 579.6 765.6 582.4 768.1 C585.3 770.7 588.1 773.6 590.6 776.5 C593.2 779.4 595.6 782.6 597.9 785.8 C600.2 789.0 602.3 792.4 604.3 795.8 C606.2 799.2 608.1 802.8 609.8 806.3 C611.5 809.9 613.0 813.6 614.5 817.2 C615.9 820.9 617.3 824.6 618.5 828.4 C619.8 832.1 620.9 835.9 622.0 839.7 C623.1 843.4 624.1 847.2 625.0 851.0 C626.0 854.8 626.9 858.7 627.7 862.5 C628.5 866.3 629.3 870.2 630.0 874.0 C630.8 877.9 631.4 881.8 632.1 885.7 C632.7 889.5 633.3 893.5 633.8 897.4 C634.4 901.3 634.9 905.3 635.3 909.3 C635.7 913.2 636.1 917.2 636.4 921.2 C636.7 925.3 637.0 929.3 637.1 933.3 C637.3 937.4 637.4 941.4 637.4 945.5 C637.5 949.6 637.4 953.6 637.3 957.7 C637.2 961.8 637.0 965.8 636.7 969.8 C636.5 973.9 636.1 977.9 635.7 981.9 C635.4 985.9 634.9 989.9 634.4 993.9 C633.9 997.8 633.3 1001.8 632.7 1005.7 C632.1 1009.6 631.4 1013.4 630.7 1017.3 C630.1 1021.2 629.3 1025.0 628.6 1028.8 C627.9 1032.6 627.1 1036.4 626.3 1040.2 C625.5 1044.0 624.7 1047.8 623.9 1051.6 C623.0 1055.4 622.2 1059.1 621.3 1062.9 C620.4 1066.7 619.5 1070.6 618.5 1074.4 C617.5 1078.2 616.6 1082.0 615.5 1085.9 C614.4 1089.7 613.3 1093.6 612.1 1097.5 C610.9 1101.3 609.6 1105.2 608.2 1109.0 C606.8 1112.9 605.3 1116.7 603.7 1120.5 C602.0 1124.3 600.3 1128.1 598.4 1131.8 C596.5 1135.4 594.5 1139.0 592.3 1142.5 C590.1 1146.0 587.8 1149.4 585.3 1152.6 C582.8 1155.7 580.2 1158.8 577.5 1161.6 C574.7 1164.4 571.8 1167.1 568.8 1169.4 C565.8 1171.8 562.6 1173.9 559.4 1175.7 C556.2 1177.5 552.8 1179.0 549.4 1180.3 C546.1 1181.5 542.6 1182.4 539.2 1183.0 C535.7 1183.5 532.2 1183.8 528.7 1183.7 C525.2 1183.6 521.7 1183.2 518.3 1182.5 C514.8 1181.8 511.4 1180.7 508.1 1179.3 C504.7 1178.0 501.4 1176.3 498.3 1174.3 C495.1 1172.4 492.0 1170.1 489.1 1167.7 C486.1 1165.2 483.3 1162.4 480.6 1159.5 C477.9 1156.6 475.3 1153.4 472.9 1150.2 C470.4 1146.9 468.2 1143.4 466.0 1139.9 C463.9 1136.3 461.9 1132.7 460.0 1128.9 C458.1 1125.2 456.4 1121.4 454.7 1117.6 C453.1 1113.8 451.6 1109.9 450.1 1106.1 C448.7 1102.2 447.4 1098.3 446.1 1094.5 C444.8 1090.6 443.6 1086.8 442.5 1083.0 C441.3 1079.2 440.2 1075.3 439.1 1071.6 C438.1 1067.8 437.1 1064.0 436.1 1060.2 C435.1 1056.5 434.1 1052.8 433.1 1049.0 C432.2 1045.3 431.3 1041.5 430.4 1037.8 C429.5 1034.0 428.6 1030.3 427.8 1026.5 C427.0 1022.7 426.2 1018.9 425.4 1015.1 C424.7 1011.3 424.0 1007.4 423.3 1003.5 C422.7 999.7 422.1 995.7 421.5 991.8 C421.0 987.8 420.5 983.9 420.1 979.8 C419.7 975.8 419.4 971.8 419.2 967.8 C418.9 963.7 418.8 959.6 418.7 955.5 C418.6 951.5 418.6 947.4 418.7 943.3 C418.8 939.2 418.9 935.1 419.1 931.1 C419.4 927.0 419.6 922.9 420.0 918.9 C420.4 914.9 420.8 910.9 421.3 906.9 C421.7 902.9 422.3 898.9 422.8 895.0 C423.4 891.1 424.1 887.2 424.7 883.3 C425.4 879.4 426.1 875.5 426.9 871.7 C427.7 867.9 428.5 864.1 429.4 860.3 C430.3 856.5 431.2 852.8 432.2 849.0 C433.2 845.3 434.2 841.5 435.4 837.8 C436.5 834.1 437.7 830.4 439.1 826.8 C440.4 823.1 441.8 819.4 443.4 815.9 C444.9 812.3 446.6 808.7 448.4 805.2 C450.2 801.7 452.1 798.2 454.2 794.9 C456.3 791.5 458.6 788.2 461.0 785.1 C463.4 781.9 465.9 778.8 468.6 776.0 C471.4 773.1 474.2 770.3 477.3 767.8 C480.3 765.2 483.5 762.8 486.7 760.7 C490.0 758.5 493.5 756.6 497.0 754.9 C500.5 753.3 504.1 751.8 507.8 750.7 C511.5 749.5 515.3 748.7 519.1 748.1 C522.8 747.5 526.7 747.2 530.5 747.2Z" fill="none" stroke="#d8c890" stroke-width="1.5" opacity="0.6"/>
<g clip-path="url(#k3)">
<path d="M861.4 768.0 C865.1 768.1 868.8 768.5 872.4 769.3 C876.1 770.0 879.7 771.1 883.3 772.4 C886.9 773.7 890.4 775.3 893.9 777.1 C897.3 779.0 900.7 781.1 904.0 783.4 C907.2 785.7 910.4 788.2 913.4 790.9 C916.4 793.6 919.3 796.4 922.1 799.4 C924.8 802.4 927.5 805.5 930.0 808.7 C932.5 811.9 934.8 815.3 937.1 818.6 C939.3 822.0 941.4 825.4 943.4 828.9 C945.4 832.3 947.3 835.9 949.0 839.4 C950.8 842.9 952.4 846.4 954.0 850.0 C955.6 853.5 957.1 857.1 958.5 860.7 C959.9 864.2 961.2 867.8 962.5 871.4 C963.8 875.0 965.0 878.5 966.2 882.1 C967.4 885.7 968.5 889.3 969.6 893.0 C970.7 896.6 971.7 900.2 972.7 903.9 C973.7 907.6 974.7 911.3 975.6 915.0 C976.6 918.7 977.4 922.5 978.3 926.3 C979.1 930.1 979.9 933.9 980.6 937.7 C981.4 941.6 982.0 945.5 982.6 949.3 C983.2 953.2 983.8 957.2 984.3 961.1 C984.7 965.0 985.1 969.0 985.4 972.9 C985.7 976.9 986.0 980.9 986.1 984.8 C986.3 988.8 986.4 992.7 986.3 996.6 C986.3 1000.6 986.2 1004.5 986.0 1008.4 C985.8 1012.3 985.6 1016.2 985.2 1020.1 C984.9 1023.9 984.4 1027.8 983.9 1031.6 C983.4 1035.4 982.9 1039.2 982.2 1043.0 C981.6 1046.8 980.9 1050.5 980.1 1054.3 C979.3 1058.0 978.5 1061.8 977.6 1065.5 C976.7 1069.2 975.8 1072.9 974.7 1076.6 C973.7 1080.4 972.6 1084.1 971.5 1087.8 C970.3 1091.5 969.1 1095.2 967.8 1098.9 C966.5 1102.5 965.1 1106.2 963.6 1109.9 C962.1 1113.5 960.6 1117.2 958.9 1120.8 C957.2 1124.4 955.4 1128.0 953.5 1131.5 C951.6 1135.0 949.6 1138.4 947.5 1141.8 C945.3 1145.1 943.0 1148.4 940.6 1151.5 C938.2 1154.6 935.6 1157.6 932.9 1160.4 C930.2 1163.2 927.4 1165.9 924.4 1168.3 C921.4 1170.8 918.3 1173.1 915.0 1175.1 C911.8 1177.1 908.4 1178.9 905.0 1180.4 C901.5 1181.9 897.9 1183.2 894.3 1184.2 C890.6 1185.1 886.9 1185.8 883.1 1186.2 C879.3 1186.7 875.5 1186.8 871.7 1186.6 C867.8 1186.4 864.0 1186.0 860.1 1185.2 C856.3 1184.5 852.5 1183.5 848.8 1182.2 C845.1 1180.9 841.4 1179.4 837.8 1177.6 C834.2 1175.9 830.7 1173.9 827.3 1171.7 C824.0 1169.6 820.7 1167.2 817.6 1164.6 C814.4 1162.1 811.4 1159.4 808.6 1156.6 C805.7 1153.8 803.0 1150.8 800.4 1147.8 C797.9 1144.7 795.4 1141.6 793.2 1138.4 C790.9 1135.2 788.7 1131.9 786.7 1128.6 C784.7 1125.2 782.8 1121.9 781.0 1118.5 C779.2 1115.1 777.6 1111.6 776.0 1108.2 C774.4 1104.7 773.0 1101.2 771.6 1097.7 C770.2 1094.2 768.9 1090.7 767.6 1087.1 C766.3 1083.5 765.2 1080.0 764.0 1076.3 C762.9 1072.7 761.8 1069.1 760.7 1065.4 C759.7 1061.7 758.7 1058.0 757.7 1054.3 C756.8 1050.5 755.9 1046.7 755.0 1042.9 C754.1 1039.1 753.3 1035.3 752.5 1031.4 C751.7 1027.5 751.0 1023.6 750.3 1019.7 C749.7 1015.7 749.1 1011.8 748.5 1007.8 C748.0 1003.8 747.5 999.8 747.1 995.8 C746.7 991.8 746.4 987.8 746.2 983.8 C746.0 979.9 745.8 975.9 745.8 971.9 C745.7 968.0 745.7 964.0 745.9 960.1 C746.0 956.2 746.2 952.3 746.5 948.5 C746.8 944.6 747.2 940.8 747.6 937.0 C748.1 933.3 748.6 929.5 749.3 925.8 C749.9 922.1 750.6 918.4 751.3 914.7 C752.1 911.0 752.9 907.4 753.8 903.7 C754.7 900.1 755.7 896.4 756.7 892.8 C757.7 889.2 758.8 885.5 759.9 881.9 C761.0 878.2 762.2 874.6 763.5 870.9 C764.7 867.3 766.0 863.6 767.4 859.9 C768.8 856.2 770.3 852.5 771.8 848.8 C773.4 845.2 775.0 841.5 776.7 837.8 C778.4 834.1 780.2 830.5 782.1 826.9 C784.0 823.3 786.0 819.7 788.2 816.2 C790.3 812.7 792.5 809.3 794.9 806.0 C797.3 802.8 799.8 799.6 802.4 796.6 C805.1 793.6 807.8 790.8 810.7 788.1 C813.6 785.5 816.6 783.1 819.7 780.9 C822.9 778.7 826.1 776.7 829.4 775.1 C832.8 773.4 836.2 772.0 839.7 770.9 C843.2 769.8 846.8 769.0 850.4 768.5 C854.0 768.0 857.7 767.8 861.4 768.0Z" fill="#d2ca9a"/>
<rect x="649.5" y="761.0" width="433.0" height="433.0" filter="url(#t3)" opacity="0.45"/>
<path d="M740 868 C790 845 830 828 875 821 C905 822 935 838 990 866 L990 760 L740 760Z" fill="#dad2a8" opacity="0.7" filter="url(#bl4)"/>
<path d="M768 866 C790 845 830 828 875 821 C905 822 935 838 957 866" fill="none" stroke="#5a5234" stroke-width="1.6" opacity="0.55" filter="url(#bl1)"/>
<path d="M787 859 C805 845 830 836 855 831 C880 828 905 840 922 852 C932 862 933 880 928 891 C918 902 900 912 890 930 C884 945 884 965 886 988 C895 1010 902 1035 904 1061 C907 1090 913 1115 914 1133 C914 1150 905 1168 894 1172 C880 1175 870 1172 862 1171 C845 1166 828 1160 815 1148 C800 1135 788 1115 780 1097 C772 1080 766 1060 764 1040 C760 1000 759 970 761 950 C763 920 768 900 775 880 C778 870 782 864 787 859 Z" fill="#aaa474" opacity="0.55" filter="url(#bl2)"/>
<g clip-path="url(#kemb)"><rect x="649.5" y="761.0" width="433.0" height="433.0" filter="url(#t3m)" opacity="0.75"/><rect x="649.5" y="761.0" width="433.0" height="433.0" filter="url(#t3e)" opacity="0.7"/></g>
<ellipse cx="835" cy="1060" rx="45" ry="70" fill="#626048" opacity="0.26" filter="url(#bl8)"/>
<ellipse cx="860" cy="1120" rx="30" ry="35" fill="#626048" opacity="0.19" filter="url(#bl8)"/>
<ellipse cx="805" cy="975" rx="22" ry="35" fill="#626048" opacity="0.15" filter="url(#bl8)"/>
<ellipse cx="888" cy="940" rx="14" ry="26" fill="#626048" opacity="0.47" filter="url(#bl8)"/>
<ellipse cx="930" cy="1080" rx="16" ry="20" fill="#626048" opacity="0.34" filter="url(#bl8)"/>
<ellipse cx="872" cy="905" rx="22" ry="14" fill="#626048" opacity="0.26" filter="url(#bl8)"/>
<ellipse cx="950" cy="1130" rx="10" ry="14" fill="#626048" opacity="0.30" filter="url(#bl8)"/>
<ellipse cx="815" cy="1040" rx="30" ry="40" fill="#626048" opacity="0.17" filter="url(#bl8)"/>
<circle cx="890.5" cy="926.6" r="3.8" fill="#d4cca0" stroke="#4a4a30" stroke-width="1" opacity="0.5"/>
<circle cx="885.4" cy="948.5" r="3.2" fill="#d4cca0" stroke="#4a4a30" stroke-width="1" opacity="0.5"/>
<circle cx="885.2" cy="946.9" r="2.6" fill="#d4cca0" stroke="#4a4a30" stroke-width="1" opacity="0.5"/>
<circle cx="892.7" cy="922.0" r="2.7" fill="#d4cca0" stroke="#4a4a30" stroke-width="1" opacity="0.5"/>
<circle cx="892.5" cy="965.1" r="2.7" fill="#d4cca0" stroke="#4a4a30" stroke-width="1" opacity="0.5"/>
<circle cx="888.5" cy="953.8" r="4.4" fill="#d4cca0" stroke="#4a4a30" stroke-width="1" opacity="0.5"/>
<circle cx="895.5" cy="940.6" r="4.5" fill="#d4cca0" stroke="#4a4a30" stroke-width="1" opacity="0.5"/>
<circle cx="884.9" cy="966.9" r="3.1" fill="#d4cca0" stroke="#4a4a30" stroke-width="1" opacity="0.5"/>
<circle cx="886.9" cy="924.7" r="3.1" fill="#d4cca0" stroke="#4a4a30" stroke-width="1" opacity="0.5"/>
<circle cx="900.3" cy="928.3" r="3.7" fill="#d4cca0" stroke="#4a4a30" stroke-width="1" opacity="0.5"/>
<circle cx="896.8" cy="939.2" r="3.6" fill="#d4cca0" stroke="#4a4a30" stroke-width="1" opacity="0.5"/>
<circle cx="885.3" cy="921.4" r="2.9" fill="#d4cca0" stroke="#4a4a30" stroke-width="1" opacity="0.5"/>
<circle cx="897.6" cy="942.4" r="3.1" fill="#d4cca0" stroke="#4a4a30" stroke-width="1" opacity="0.5"/>
<circle cx="895.7" cy="943.8" r="3.1" fill="#d4cca0" stroke="#4a4a30" stroke-width="1" opacity="0.5"/>
<path d="M787 859 C805 845 830 836 855 831 C880 828 905 840 922 852 C932 862 933 880 928 891 C918 902 900 912 890 930 C884 945 884 965 886 988 C895 1010 902 1035 904 1061 C907 1090 913 1115 914 1133 C914 1150 905 1168 894 1172 C880 1175 870 1172 862 1171 C845 1166 828 1160 815 1148 C800 1135 788 1115 780 1097 C772 1080 766 1060 764 1040 C760 1000 759 970 761 950 C763 920 768 900 775 880 C778 870 782 864 787 859 Z" fill="none" stroke="#3a3a24" stroke-width="2" opacity="0.75" filter="url(#bl1)"/>
<path d="M903 1032 Q940 1020 988 998 L988 1012 Q945 1036 905 1048Z" fill="#6a664a" opacity="0.45" filter="url(#bl2)"/>
<path d="M772 866 C762 900 757 950 757 995 C758 1045 766 1080 780 1108 C795 1138 820 1162 855 1176 C870 1181 885 1182 900 1180" fill="none" stroke="#2e2814" stroke-width="2.2" opacity="0.75"/>
<path d="M765 870 C754 905 750 955 751 1000 C752 1050 760 1088 775 1118 C792 1150 820 1172 860 1184" fill="none" stroke="#4a4024" stroke-width="1.4" opacity="0.5"/>
<path d="M926 895 C948 880 980 905 990 950 L990 1140 C962 1172 932 1172 916 1150 C920 1100 912 1040 900 990 C896 960 905 915 926 895Z" fill="#dcd4aa" opacity="0.4" filter="url(#bl4)"/>
<ellipse cx="868" cy="868" rx="48" ry="26" fill="#d6cea0" opacity="0.35" filter="url(#bl8)"/>
<ellipse cx="884" cy="932" rx="14" ry="26" fill="#4a4a34" opacity="0.35" filter="url(#bl4)"/>
<path d="M861.3 772.0 C864.7 772.1 868.2 772.5 871.6 773.2 C875.1 773.9 878.6 774.9 881.9 776.1 C885.3 777.4 888.7 778.9 892.0 780.7 C895.3 782.4 898.5 784.4 901.7 786.6 C904.8 788.9 907.8 791.3 910.7 793.9 C913.7 796.5 916.5 799.2 919.2 802.1 C921.8 805.0 924.4 808.1 926.8 811.2 C929.3 814.3 931.6 817.6 933.8 820.8 C935.9 824.1 938.0 827.5 939.9 830.9 C941.9 834.3 943.7 837.7 945.5 841.2 C947.2 844.6 948.8 848.1 950.4 851.6 C951.9 855.1 953.4 858.6 954.8 862.2 C956.2 865.7 957.5 869.2 958.8 872.7 C960.0 876.3 961.2 879.8 962.4 883.4 C963.6 887.0 964.7 890.5 965.8 894.1 C966.8 897.7 967.9 901.3 968.9 905.0 C969.9 908.6 970.8 912.3 971.7 916.0 C972.7 919.7 973.5 923.4 974.4 927.1 C975.2 930.9 976.0 934.7 976.7 938.5 C977.4 942.3 978.1 946.1 978.7 950.0 C979.3 953.8 979.8 957.7 980.3 961.6 C980.7 965.5 981.1 969.4 981.4 973.3 C981.8 977.2 982.0 981.1 982.1 985.0 C982.3 988.9 982.4 992.8 982.3 996.6 C982.3 1000.5 982.2 1004.4 982.0 1008.2 C981.8 1012.1 981.6 1015.9 981.2 1019.7 C980.9 1023.5 980.5 1027.3 980.0 1031.1 C979.5 1034.8 978.9 1038.6 978.3 1042.3 C977.7 1046.1 977.0 1049.8 976.2 1053.5 C975.4 1057.2 974.6 1060.9 973.7 1064.5 C972.8 1068.2 971.9 1071.9 970.9 1075.6 C969.9 1079.2 968.8 1082.9 967.6 1086.6 C966.5 1090.2 965.3 1093.9 964.0 1097.5 C962.7 1101.2 961.4 1104.8 959.9 1108.4 C958.4 1112.0 956.9 1115.6 955.3 1119.1 C953.6 1122.6 951.9 1126.1 950.0 1129.6 C948.1 1133.0 946.2 1136.3 944.1 1139.6 C942.0 1142.8 939.8 1146.0 937.4 1149.0 C935.1 1152.0 932.6 1154.9 930.0 1157.6 C927.4 1160.3 924.7 1162.9 921.8 1165.3 C919.0 1167.6 916.0 1169.8 912.9 1171.7 C909.9 1173.6 906.6 1175.3 903.4 1176.7 C900.1 1178.2 896.7 1179.4 893.2 1180.3 C889.8 1181.2 886.2 1181.9 882.7 1182.3 C879.1 1182.7 875.5 1182.8 871.8 1182.6 C868.2 1182.4 864.5 1182.0 860.9 1181.3 C857.3 1180.6 853.6 1179.6 850.1 1178.4 C846.5 1177.2 843.0 1175.7 839.5 1174.1 C836.1 1172.4 832.7 1170.4 829.5 1168.4 C826.2 1166.3 823.1 1164.0 820.1 1161.5 C817.0 1159.1 814.1 1156.4 811.4 1153.7 C808.6 1151.0 806.0 1148.1 803.5 1145.2 C801.0 1142.2 798.6 1139.2 796.4 1136.0 C794.2 1132.9 792.1 1129.7 790.1 1126.5 C788.2 1123.2 786.3 1119.9 784.6 1116.6 C782.8 1113.3 781.2 1109.9 779.7 1106.5 C778.1 1103.1 776.7 1099.7 775.3 1096.2 C773.9 1092.8 772.6 1089.3 771.4 1085.8 C770.1 1082.2 769.0 1078.7 767.8 1075.1 C766.7 1071.6 765.6 1067.9 764.6 1064.3 C763.5 1060.7 762.6 1057.0 761.6 1053.3 C760.7 1049.6 759.7 1045.8 758.9 1042.0 C758.0 1038.3 757.2 1034.4 756.4 1030.6 C755.7 1026.8 754.9 1022.9 754.3 1019.0 C753.6 1015.1 753.0 1011.2 752.5 1007.2 C752.0 1003.3 751.5 999.4 751.1 995.4 C750.7 991.5 750.4 987.5 750.2 983.6 C750.0 979.7 749.8 975.8 749.8 971.9 C749.7 968.0 749.7 964.1 749.9 960.2 C750.0 956.4 750.2 952.6 750.5 948.8 C750.8 945.0 751.1 941.3 751.6 937.5 C752.1 933.8 752.6 930.1 753.2 926.4 C753.8 922.8 754.5 919.1 755.2 915.5 C756.0 911.9 756.8 908.3 757.7 904.7 C758.6 901.1 759.5 897.5 760.5 893.9 C761.5 890.3 762.6 886.7 763.7 883.1 C764.8 879.5 766.0 875.9 767.3 872.2 C768.5 868.6 769.8 865.0 771.2 861.3 C772.5 857.7 774.0 854.0 775.5 850.4 C777.0 846.7 778.6 843.1 780.3 839.5 C782.0 835.9 783.8 832.3 785.6 828.7 C787.5 825.2 789.5 821.7 791.6 818.3 C793.7 814.9 795.9 811.6 798.2 808.4 C800.5 805.2 802.9 802.1 805.4 799.3 C808.0 796.4 810.6 793.6 813.4 791.1 C816.2 788.6 819.1 786.2 822.0 784.2 C825.0 782.1 828.1 780.2 831.2 778.7 C834.4 777.1 837.6 775.8 840.9 774.7 C844.2 773.7 847.6 772.9 851.0 772.5 C854.4 772.0 857.8 771.8 861.3 772.0Z" fill="none" stroke="#a49a64" stroke-width="6" opacity="0.45"/>
<circle cx="819" cy="884.5" r="13.5" fill="url(#eye)"/>
</g>
<path d="M861.3 769.3 C864.9 769.4 868.6 769.8 872.2 770.6 C875.8 771.3 879.4 772.3 882.9 773.6 C886.4 774.9 889.9 776.5 893.3 778.3 C896.7 780.1 900.0 782.2 903.2 784.4 C906.4 786.7 909.5 789.2 912.5 791.9 C915.5 794.5 918.4 797.3 921.1 800.3 C923.9 803.2 926.5 806.4 929.0 809.5 C931.4 812.7 933.8 816.0 936.0 819.3 C938.2 822.7 940.3 826.1 942.3 829.5 C944.3 833.0 946.1 836.5 947.9 840.0 C949.6 843.5 951.3 847.0 952.8 850.5 C954.4 854.1 955.9 857.6 957.3 861.2 C958.7 864.7 960.0 868.3 961.3 871.8 C962.6 875.4 963.8 879.0 965.0 882.5 C966.1 886.1 967.3 889.7 968.3 893.3 C969.4 897.0 970.5 900.6 971.5 904.3 C972.5 907.9 973.4 911.6 974.4 915.3 C975.3 919.0 976.2 922.8 977.0 926.6 C977.8 930.3 978.6 934.1 979.3 938.0 C980.1 941.8 980.7 945.7 981.4 949.5 C982.0 953.4 982.5 957.3 983.0 961.3 C983.4 965.2 983.8 969.1 984.1 973.0 C984.5 977.0 984.7 980.9 984.8 984.9 C985.0 988.8 985.1 992.7 985.0 996.6 C985.0 1000.6 984.9 1004.5 984.7 1008.3 C984.5 1012.2 984.3 1016.1 983.9 1019.9 C983.6 1023.8 983.2 1027.6 982.7 1031.4 C982.2 1035.2 981.6 1039.0 980.9 1042.8 C980.3 1046.5 979.6 1050.3 978.8 1054.0 C978.1 1057.7 977.2 1061.5 976.3 1065.2 C975.5 1068.9 974.5 1072.6 973.5 1076.3 C972.5 1080.0 971.4 1083.7 970.2 1087.4 C969.1 1091.1 967.8 1094.8 966.5 1098.4 C965.2 1102.1 963.9 1105.8 962.4 1109.4 C960.9 1113.0 959.4 1116.7 957.7 1120.2 C956.0 1123.8 954.3 1127.4 952.4 1130.8 C950.5 1134.3 948.5 1137.7 946.4 1141.0 C944.2 1144.3 942.0 1147.6 939.6 1150.7 C937.2 1153.7 934.6 1156.7 932.0 1159.5 C929.3 1162.3 926.5 1164.9 923.6 1167.3 C920.6 1169.8 917.5 1172.0 914.4 1174.0 C911.2 1176.0 907.8 1177.7 904.4 1179.2 C901.0 1180.7 897.5 1181.9 893.9 1182.9 C890.3 1183.9 886.7 1184.6 883.0 1185.0 C879.3 1185.4 875.5 1185.5 871.7 1185.3 C868.0 1185.1 864.1 1184.7 860.4 1184.0 C856.6 1183.2 852.9 1182.2 849.2 1181.0 C845.5 1179.7 841.9 1178.2 838.4 1176.5 C834.8 1174.8 831.4 1172.8 828.0 1170.6 C824.7 1168.5 821.5 1166.1 818.4 1163.6 C815.3 1161.1 812.3 1158.4 809.5 1155.6 C806.7 1152.9 804.0 1149.9 801.4 1146.9 C798.9 1143.9 796.5 1140.8 794.2 1137.6 C791.9 1134.4 789.8 1131.2 787.8 1127.9 C785.8 1124.6 784.0 1121.2 782.2 1117.9 C780.4 1114.5 778.8 1111.1 777.2 1107.6 C775.6 1104.2 774.2 1100.7 772.8 1097.2 C771.4 1093.7 770.1 1090.2 768.8 1086.7 C767.6 1083.1 766.4 1079.5 765.3 1075.9 C764.1 1072.3 763.0 1068.7 762.0 1065.0 C760.9 1061.4 759.9 1057.7 759.0 1053.9 C758.0 1050.2 757.1 1046.4 756.2 1042.6 C755.4 1038.8 754.6 1035.0 753.8 1031.1 C753.0 1027.3 752.3 1023.4 751.6 1019.4 C751.0 1015.5 750.4 1011.6 749.8 1007.6 C749.3 1003.6 748.8 999.7 748.4 995.7 C748.0 991.7 747.7 987.7 747.5 983.8 C747.3 979.8 747.1 975.8 747.1 971.9 C747.0 968.0 747.0 964.1 747.2 960.2 C747.3 956.3 747.5 952.4 747.8 948.6 C748.1 944.8 748.5 941.0 748.9 937.2 C749.4 933.4 749.9 929.7 750.5 926.0 C751.2 922.3 751.8 918.6 752.6 915.0 C753.4 911.3 754.2 907.7 755.1 904.0 C756.0 900.4 756.9 896.8 757.9 893.1 C758.9 889.5 760.0 885.9 761.1 882.3 C762.3 878.6 763.5 875.0 764.7 871.4 C766.0 867.7 767.3 864.0 768.6 860.4 C770.0 856.7 771.5 853.0 773.0 849.3 C774.5 845.7 776.1 842.0 777.9 838.3 C779.6 834.7 781.3 831.0 783.3 827.5 C785.2 823.9 787.2 820.3 789.3 816.9 C791.4 813.4 793.6 810.1 796.0 806.8 C798.3 803.6 800.8 800.4 803.4 797.5 C806.0 794.5 808.7 791.7 811.6 789.1 C814.4 786.5 817.4 784.1 820.5 781.9 C823.6 779.8 826.8 777.9 830.0 776.2 C833.3 774.6 836.7 773.2 840.1 772.1 C843.5 771.1 847.1 770.3 850.6 769.8 C854.1 769.3 857.8 769.1 861.3 769.3Z" fill="none" stroke="#8a7646" stroke-width="2.4"/>
<g clip-path="url(#k4)">
<rect x="1075" y="790" width="245" height="420" fill="#d2b284"/>
<rect x="987.0" y="786.0" width="420.0" height="420.0" filter="url(#t4)" opacity="0.6"/>
<filter id="t4f" x="0" y="0" width="100%" height="100%" color-interpolation-filters="sRGB"><feTurbulence type="fractalNoise" baseFrequency="0.3" numOctaves="2" seed="51" result="n0"/><feGaussianBlur in="n0" stdDeviation="0.4" result="n"/><feColorMatrix in="n" type="matrix" values="0 0 0 0 0.557 0 0 0 0 0.416 0 0 0 0 0.251 4.5 0 0 0 -2.5" result="L0"/><feColorMatrix in="n" type="matrix" values="0 0 0 0 0.933 0 0 0 0 0.855 0 0 0 0 0.722 -4.5 0 0 0 2.0" result="L1"/><feMerge><feMergeNode in="L0"/><feMergeNode in="L1"/></feMerge></filter>
<rect x="987.0" y="786.0" width="420.0" height="420.0" filter="url(#t4f)" opacity="0.45"/>
<ellipse cx="1185" cy="1010" rx="75" ry="150" fill="#e0c8a6" opacity="0.55" filter="url(#bl8)"/>
<ellipse cx="1268" cy="925" rx="16" ry="18" fill="#6a5030" opacity="0.35" filter="url(#bl4)"/>
<ellipse cx="1258" cy="968" rx="32" ry="14" fill="#6a5030" opacity="0.35" filter="url(#bl4)"/>
<ellipse cx="1280" cy="1060" rx="14" ry="32" fill="#6a5030" opacity="0.35" filter="url(#bl4)"/>
<ellipse cx="1265" cy="1148" rx="16" ry="18" fill="#6a5030" opacity="0.35" filter="url(#bl4)"/>
<ellipse cx="1106" cy="930" rx="14" ry="55" fill="#6a5030" opacity="0.3" filter="url(#bl4)"/>
<ellipse cx="1192" cy="1075" rx="16" ry="14" fill="#6a5030" opacity="0.3" filter="url(#bl4)"/>
<ellipse cx="1215" cy="940" rx="25" ry="40" fill="#6a5030" opacity="0.12" filter="url(#bl4)"/>
<circle cx="1272.3" cy="906.0" r="2.1" fill="none" stroke="#3e2a12" stroke-width="1.3" opacity="0.75"/><circle cx="1274.9" cy="932.1" r="3.3" fill="none" stroke="#3e2a12" stroke-width="1.3" opacity="0.75"/><circle cx="1266.4" cy="906.2" r="1.9" fill="#3e2a12" opacity="0.75"/><circle cx="1255.7" cy="913.0" r="2.8" fill="#3e2a12" opacity="0.75"/><circle cx="1261.0" cy="928.6" r="3.1" fill="none" stroke="#3e2a12" stroke-width="1.3" opacity="0.75"/><circle cx="1276.8" cy="932.9" r="2.2" fill="none" stroke="#3e2a12" stroke-width="1.3" opacity="0.75"/><circle cx="1280.8" cy="918.5" r="1.7" fill="none" stroke="#3e2a12" stroke-width="1.3" opacity="0.75"/><circle cx="1277.9" cy="929.1" r="3.1" fill="#3e2a12" opacity="0.75"/><circle cx="1269.5" cy="943.9" r="2.3" fill="#3e2a12" opacity="0.75"/><circle cx="1277.4" cy="929.7" r="3.2" fill="#3e2a12" opacity="0.75"/><circle cx="1274.0" cy="906.8" r="2.0" fill="none" stroke="#3e2a12" stroke-width="1.3" opacity="0.75"/><circle cx="1257.2" cy="914.3" r="1.7" fill="none" stroke="#3e2a12" stroke-width="1.3" opacity="0.75"/><circle cx="1272.2" cy="919.6" r="2.2" fill="none" stroke="#3e2a12" stroke-width="1.3" opacity="0.75"/><circle cx="1262.2" cy="942.5" r="2.8" fill="#3e2a12" opacity="0.75"/><circle cx="1259.6" cy="934.2" r="1.8" fill="none" stroke="#3e2a12" stroke-width="1.3" opacity="0.75"/><circle cx="1281.7" cy="930.6" r="2.6" fill="#3e2a12" opacity="0.75"/><circle cx="1277.8" cy="936.0" r="2.0" fill="none" stroke="#3e2a12" stroke-width="1.3" opacity="0.75"/><circle cx="1263.5" cy="915.7" r="1.9" fill="#3e2a12" opacity="0.75"/><circle cx="1278.7" cy="917.6" r="2.8" fill="none" stroke="#3e2a12" stroke-width="1.3" opacity="0.75"/><circle cx="1279.7" cy="923.4" r="2.0" fill="none" stroke="#3e2a12" stroke-width="1.3" opacity="0.75"/><circle cx="1270.2" cy="915.5" r="2.7" fill="#3e2a12" opacity="0.75"/><circle cx="1265.8" cy="913.8" r="3.5" fill="#3e2a12" opacity="0.75"/><circle cx="1257.5" cy="906.9" r="1.7" fill="#3e2a12" opacity="0.75"/><circle cx="1276.4" cy="921.9" r="1.6" fill="none" stroke="#3e2a12" stroke-width="1.3" opacity="0.75"/><circle cx="1281.9" cy="926.2" r="3.4" fill="#3e2a12" opacity="0.75"/><circle cx="1255.3" cy="933.8" r="2.9" fill="#3e2a12" opacity="0.75"/>
<circle cx="1245.9" cy="971.2" r="1.7" fill="none" stroke="#3e2a12" stroke-width="1.3" opacity="0.7"/><circle cx="1258.4" cy="980.6" r="3.3" fill="none" stroke="#3e2a12" stroke-width="1.3" opacity="0.7"/><circle cx="1261.5" cy="957.4" r="3.3" fill="#3e2a12" opacity="0.7"/><circle cx="1248.0" cy="971.2" r="2.7" fill="none" stroke="#3e2a12" stroke-width="1.3" opacity="0.7"/><circle cx="1279.1" cy="968.2" r="3.1" fill="#3e2a12" opacity="0.7"/><circle cx="1228.0" cy="961.7" r="1.5" fill="#3e2a12" opacity="0.7"/><circle cx="1286.9" cy="976.9" r="2.1" fill="none" stroke="#3e2a12" stroke-width="1.3" opacity="0.7"/><circle cx="1286.8" cy="980.4" r="1.7" fill="none" stroke="#3e2a12" stroke-width="1.3" opacity="0.7"/><circle cx="1232.6" cy="974.8" r="3.0" fill="none" stroke="#3e2a12" stroke-width="1.3" opacity="0.7"/><circle cx="1259.8" cy="968.5" r="2.0" fill="#3e2a12" opacity="0.7"/><circle cx="1256.4" cy="958.4" r="2.6" fill="#3e2a12" opacity="0.7"/><circle cx="1241.5" cy="961.4" r="3.5" fill="#3e2a12" opacity="0.7"/><circle cx="1257.4" cy="967.5" r="1.7" fill="none" stroke="#3e2a12" stroke-width="1.3" opacity="0.7"/><circle cx="1250.7" cy="969.6" r="2.0" fill="none" stroke="#3e2a12" stroke-width="1.3" opacity="0.7"/><circle cx="1232.8" cy="970.9" r="2.0" fill="#3e2a12" opacity="0.7"/><circle cx="1285.6" cy="954.1" r="2.0" fill="#3e2a12" opacity="0.7"/><circle cx="1242.4" cy="956.0" r="3.4" fill="#3e2a12" opacity="0.7"/><circle cx="1259.7" cy="975.5" r="3.1" fill="none" stroke="#3e2a12" stroke-width="1.3" opacity="0.7"/><circle cx="1234.5" cy="964.9" r="2.3" fill="none" stroke="#3e2a12" stroke-width="1.3" opacity="0.7"/><circle cx="1276.8" cy="972.2" r="3.5" fill="none" stroke="#3e2a12" stroke-width="1.3" opacity="0.7"/><circle cx="1255.0" cy="962.2" r="3.2" fill="none" stroke="#3e2a12" stroke-width="1.3" opacity="0.7"/><circle cx="1240.7" cy="965.5" r="2.3" fill="none" stroke="#3e2a12" stroke-width="1.3" opacity="0.7"/><circle cx="1244.7" cy="979.7" r="2.4" fill="#3e2a12" opacity="0.7"/><circle cx="1264.9" cy="953.5" r="3.5" fill="#3e2a12" opacity="0.7"/><circle cx="1292.9" cy="979.8" r="3.2" fill="none" stroke="#3e2a12" stroke-width="1.3" opacity="0.7"/><circle cx="1260.5" cy="958.4" r="2.3" fill="none" stroke="#3e2a12" stroke-width="1.3" opacity="0.7"/><circle cx="1253.4" cy="981.6" r="2.0" fill="#3e2a12" opacity="0.7"/><circle cx="1258.5" cy="964.7" r="3.4" fill="#3e2a12" opacity="0.7"/><circle cx="1265.2" cy="973.6" r="1.8" fill="none" stroke="#3e2a12" stroke-width="1.3" opacity="0.7"/><circle cx="1292.9" cy="969.4" r="2.6" fill="#3e2a12" opacity="0.7"/><circle cx="1231.8" cy="969.5" r="2.5" fill="#3e2a12" opacity="0.7"/><circle cx="1238.5" cy="980.8" r="1.7" fill="none" stroke="#3e2a12" stroke-width="1.3" opacity="0.7"/><circle cx="1267.9" cy="972.3" r="2.0" fill="none" stroke="#3e2a12" stroke-width="1.3" opacity="0.7"/><circle cx="1287.6" cy="959.4" r="2.7" fill="#3e2a12" opacity="0.7"/>
<circle cx="1276.3" cy="1066.8" r="2.8" fill="#3e2a12" opacity="0.75"/><circle cx="1268.9" cy="1075.1" r="2.1" fill="none" stroke="#3e2a12" stroke-width="1.3" opacity="0.75"/><circle cx="1284.8" cy="1048.9" r="2.3" fill="#3e2a12" opacity="0.75"/><circle cx="1264.5" cy="1058.9" r="4.0" fill="#3e2a12" opacity="0.75"/><circle cx="1264.5" cy="1043.4" r="2.2" fill="#3e2a12" opacity="0.75"/><circle cx="1291.9" cy="1085.4" r="2.4" fill="none" stroke="#3e2a12" stroke-width="1.3" opacity="0.75"/><circle cx="1290.3" cy="1074.3" r="3.0" fill="#3e2a12" opacity="0.75"/><circle cx="1284.2" cy="1030.5" r="3.5" fill="none" stroke="#3e2a12" stroke-width="1.3" opacity="0.75"/><circle cx="1284.6" cy="1089.2" r="1.8" fill="none" stroke="#3e2a12" stroke-width="1.3" opacity="0.75"/><circle cx="1265.6" cy="1064.9" r="2.2" fill="#3e2a12" opacity="0.75"/><circle cx="1286.4" cy="1042.8" r="3.1" fill="none" stroke="#3e2a12" stroke-width="1.3" opacity="0.75"/><circle cx="1278.6" cy="1087.0" r="3.6" fill="none" stroke="#3e2a12" stroke-width="1.3" opacity="0.75"/><circle cx="1276.4" cy="1047.4" r="1.5" fill="#3e2a12" opacity="0.75"/><circle cx="1283.7" cy="1046.5" r="3.4" fill="#3e2a12" opacity="0.75"/><circle cx="1276.5" cy="1030.6" r="1.7" fill="#3e2a12" opacity="0.75"/><circle cx="1292.7" cy="1064.4" r="3.6" fill="#3e2a12" opacity="0.75"/><circle cx="1267.0" cy="1038.0" r="2.3" fill="#3e2a12" opacity="0.75"/><circle cx="1289.1" cy="1084.2" r="3.7" fill="none" stroke="#3e2a12" stroke-width="1.3" opacity="0.75"/><circle cx="1270.5" cy="1036.5" r="3.5" fill="#3e2a12" opacity="0.75"/><circle cx="1275.8" cy="1069.1" r="1.9" fill="#3e2a12" opacity="0.75"/><circle cx="1291.4" cy="1091.5" r="3.5" fill="#3e2a12" opacity="0.75"/><circle cx="1262.8" cy="1076.4" r="2.3" fill="#3e2a12" opacity="0.75"/><circle cx="1289.3" cy="1084.4" r="3.5" fill="none" stroke="#3e2a12" stroke-width="1.3" opacity="0.75"/><circle cx="1288.8" cy="1036.8" r="3.7" fill="#3e2a12" opacity="0.75"/><circle cx="1269.6" cy="1081.4" r="2.7" fill="none" stroke="#3e2a12" stroke-width="1.3" opacity="0.75"/><circle cx="1289.0" cy="1044.3" r="1.6" fill="none" stroke="#3e2a12" stroke-width="1.3" opacity="0.75"/><circle cx="1273.2" cy="1084.5" r="3.9" fill="none" stroke="#3e2a12" stroke-width="1.3" opacity="0.75"/><circle cx="1283.8" cy="1055.2" r="4.0" fill="#3e2a12" opacity="0.75"/><circle cx="1293.9" cy="1037.3" r="3.9" fill="none" stroke="#3e2a12" stroke-width="1.3" opacity="0.75"/><circle cx="1294.7" cy="1046.7" r="1.8" fill="none" stroke="#3e2a12" stroke-width="1.3" opacity="0.75"/><circle cx="1286.8" cy="1049.8" r="3.0" fill="#3e2a12" opacity="0.75"/><circle cx="1275.1" cy="1066.3" r="2.1" fill="#3e2a12" opacity="0.75"/><circle cx="1262.1" cy="1088.3" r="2.8" fill="#3e2a12" opacity="0.75"/><circle cx="1287.2" cy="1072.2" r="2.4" fill="none" stroke="#3e2a12" stroke-width="1.3" opacity="0.75"/><circle cx="1284.6" cy="1050.8" r="2.3" fill="#3e2a12" opacity="0.75"/><circle cx="1286.5" cy="1048.9" r="2.3" fill="none" stroke="#3e2a12" stroke-width="1.3" opacity="0.75"/>
<circle cx="1262.1" cy="1141.9" r="1.8" fill="none" stroke="#3e2a12" stroke-width="1.3" opacity="0.75"/><circle cx="1278.2" cy="1156.1" r="3.3" fill="#3e2a12" opacity="0.75"/><circle cx="1259.0" cy="1151.3" r="1.5" fill="none" stroke="#3e2a12" stroke-width="1.3" opacity="0.75"/><circle cx="1262.9" cy="1152.5" r="2.8" fill="none" stroke="#3e2a12" stroke-width="1.3" opacity="0.75"/><circle cx="1263.3" cy="1138.9" r="2.4" fill="#3e2a12" opacity="0.75"/><circle cx="1273.9" cy="1137.3" r="1.7" fill="#3e2a12" opacity="0.75"/><circle cx="1269.0" cy="1143.4" r="3.1" fill="#3e2a12" opacity="0.75"/><circle cx="1270.2" cy="1139.3" r="1.9" fill="none" stroke="#3e2a12" stroke-width="1.3" opacity="0.75"/><circle cx="1257.3" cy="1148.6" r="3.2" fill="none" stroke="#3e2a12" stroke-width="1.3" opacity="0.75"/><circle cx="1262.4" cy="1154.3" r="1.9" fill="#3e2a12" opacity="0.75"/><circle cx="1264.8" cy="1140.0" r="2.8" fill="none" stroke="#3e2a12" stroke-width="1.3" opacity="0.75"/><circle cx="1272.5" cy="1159.5" r="1.7" fill="none" stroke="#3e2a12" stroke-width="1.3" opacity="0.75"/><circle cx="1255.3" cy="1166.4" r="2.5" fill="none" stroke="#3e2a12" stroke-width="1.3" opacity="0.75"/><circle cx="1257.5" cy="1162.4" r="2.4" fill="#3e2a12" opacity="0.75"/><circle cx="1270.0" cy="1167.6" r="2.7" fill="#3e2a12" opacity="0.75"/><circle cx="1276.7" cy="1153.7" r="2.9" fill="#3e2a12" opacity="0.75"/><circle cx="1274.9" cy="1151.3" r="3.3" fill="#3e2a12" opacity="0.75"/><circle cx="1264.2" cy="1140.6" r="2.0" fill="#3e2a12" opacity="0.75"/><circle cx="1273.0" cy="1150.3" r="2.8" fill="none" stroke="#3e2a12" stroke-width="1.3" opacity="0.75"/><circle cx="1252.3" cy="1141.6" r="2.0" fill="none" stroke="#3e2a12" stroke-width="1.3" opacity="0.75"/><circle cx="1266.2" cy="1136.1" r="2.0" fill="#3e2a12" opacity="0.75"/><circle cx="1271.2" cy="1133.4" r="2.3" fill="#3e2a12" opacity="0.75"/><circle cx="1262.5" cy="1138.7" r="2.3" fill="#3e2a12" opacity="0.75"/><circle cx="1267.5" cy="1156.7" r="3.2" fill="#3e2a12" opacity="0.75"/>
<circle cx="1102.9" cy="864.7" r="1.8" fill="#4a3418" opacity="0.6"/><circle cx="1119.0" cy="984.1" r="2.0" fill="#4a3418" opacity="0.6"/><circle cx="1108.6" cy="940.0" r="1.6" fill="none" stroke="#4a3418" stroke-width="1.3" opacity="0.6"/><circle cx="1104.8" cy="867.7" r="1.8" fill="#4a3418" opacity="0.6"/><circle cx="1103.7" cy="884.8" r="2.0" fill="none" stroke="#4a3418" stroke-width="1.3" opacity="0.6"/><circle cx="1111.2" cy="867.4" r="1.9" fill="#4a3418" opacity="0.6"/><circle cx="1090.9" cy="945.0" r="1.4" fill="none" stroke="#4a3418" stroke-width="1.3" opacity="0.6"/><circle cx="1091.7" cy="911.8" r="1.6" fill="none" stroke="#4a3418" stroke-width="1.3" opacity="0.6"/><circle cx="1115.9" cy="911.8" r="2.6" fill="#4a3418" opacity="0.6"/><circle cx="1098.6" cy="874.3" r="1.2" fill="#4a3418" opacity="0.6"/><circle cx="1124.0" cy="908.1" r="2.4" fill="#4a3418" opacity="0.6"/><circle cx="1112.2" cy="959.0" r="2.9" fill="none" stroke="#4a3418" stroke-width="1.3" opacity="0.6"/><circle cx="1090.7" cy="883.2" r="1.4" fill="#4a3418" opacity="0.6"/><circle cx="1109.2" cy="891.5" r="2.5" fill="#4a3418" opacity="0.6"/><circle cx="1095.7" cy="940.5" r="2.5" fill="none" stroke="#4a3418" stroke-width="1.3" opacity="0.6"/><circle cx="1117.9" cy="985.6" r="1.4" fill="none" stroke="#4a3418" stroke-width="1.3" opacity="0.6"/><circle cx="1100.6" cy="949.3" r="2.9" fill="none" stroke="#4a3418" stroke-width="1.3" opacity="0.6"/><circle cx="1114.3" cy="873.6" r="2.4" fill="#4a3418" opacity="0.6"/><circle cx="1093.5" cy="961.3" r="2.7" fill="#4a3418" opacity="0.6"/><circle cx="1094.1" cy="988.0" r="2.6" fill="none" stroke="#4a3418" stroke-width="1.3" opacity="0.6"/><circle cx="1104.6" cy="910.7" r="2.1" fill="none" stroke="#4a3418" stroke-width="1.3" opacity="0.6"/><circle cx="1118.9" cy="967.6" r="1.4" fill="#4a3418" opacity="0.6"/><circle cx="1111.6" cy="968.4" r="2.5" fill="none" stroke="#4a3418" stroke-width="1.3" opacity="0.6"/><circle cx="1114.9" cy="985.6" r="1.7" fill="#4a3418" opacity="0.6"/><circle cx="1108.3" cy="924.9" r="2.0" fill="#4a3418" opacity="0.6"/><circle cx="1099.1" cy="971.3" r="2.7" fill="none" stroke="#4a3418" stroke-width="1.3" opacity="0.6"/><circle cx="1120.0" cy="894.7" r="2.0" fill="#4a3418" opacity="0.6"/><circle cx="1102.9" cy="867.6" r="2.7" fill="none" stroke="#4a3418" stroke-width="1.3" opacity="0.6"/><circle cx="1097.2" cy="964.5" r="1.8" fill="#4a3418" opacity="0.6"/><circle cx="1113.8" cy="898.8" r="1.2" fill="#4a3418" opacity="0.6"/><circle cx="1092.9" cy="954.7" r="2.1" fill="#4a3418" opacity="0.6"/><circle cx="1113.5" cy="945.4" r="2.1" fill="#4a3418" opacity="0.6"/><circle cx="1093.2" cy="891.9" r="2.4" fill="none" stroke="#4a3418" stroke-width="1.3" opacity="0.6"/><circle cx="1109.8" cy="923.6" r="2.2" fill="none" stroke="#4a3418" stroke-width="1.3" opacity="0.6"/><circle cx="1115.4" cy="905.7" r="2.5" fill="none" stroke="#4a3418" stroke-width="1.3" opacity="0.6"/><circle cx="1098.5" cy="879.2" r="1.5" fill="none" stroke="#4a3418" stroke-width="1.3" opacity="0.6"/><circle cx="1108.2" cy="960.0" r="1.5" fill="none" stroke="#4a3418" stroke-width="1.3" opacity="0.6"/><circle cx="1106.5" cy="955.3" r="3.0" fill="#4a3418" opacity="0.6"/><circle cx="1099.6" cy="876.7" r="1.5" fill="none" stroke="#4a3418" stroke-width="1.3" opacity="0.6"/><circle cx="1096.1" cy="865.8" r="2.2" fill="none" stroke="#4a3418" stroke-width="1.3" opacity="0.6"/><circle cx="1123.1" cy="933.7" r="2.5" fill="none" stroke="#4a3418" stroke-width="1.3" opacity="0.6"/><circle cx="1119.5" cy="925.9" r="2.8" fill="#4a3418" opacity="0.6"/><circle cx="1106.0" cy="919.5" r="1.5" fill="none" stroke="#4a3418" stroke-width="1.3" opacity="0.6"/><circle cx="1122.0" cy="924.2" r="2.7" fill="none" stroke="#4a3418" stroke-width="1.3" opacity="0.6"/><circle cx="1092.5" cy="943.3" r="1.3" fill="none" stroke="#4a3418" stroke-width="1.3" opacity="0.6"/><circle cx="1109.1" cy="902.3" r="3.0" fill="none" stroke="#4a3418" stroke-width="1.3" opacity="0.6"/><circle cx="1116.0" cy="940.4" r="2.6" fill="none" stroke="#4a3418" stroke-width="1.3" opacity="0.6"/><circle cx="1107.8" cy="920.8" r="2.0" fill="#4a3418" opacity="0.6"/><circle cx="1123.7" cy="902.5" r="2.3" fill="#4a3418" opacity="0.6"/><circle cx="1115.2" cy="983.4" r="1.6" fill="none" stroke="#4a3418" stroke-width="1.3" opacity="0.6"/><circle cx="1112.5" cy="883.8" r="1.5" fill="none" stroke="#4a3418" stroke-width="1.3" opacity="0.6"/><circle cx="1090.1" cy="920.8" r="2.3" fill="none" stroke="#4a3418" stroke-width="1.3" opacity="0.6"/><circle cx="1097.9" cy="953.1" r="2.5" fill="none" stroke="#4a3418" stroke-width="1.3" opacity="0.6"/><circle cx="1113.4" cy="980.4" r="2.6" fill="#4a3418" opacity="0.6"/><circle cx="1112.5" cy="981.6" r="2.0" fill="#4a3418" opacity="0.6"/>
<circle cx="1196.2" cy="1088.6" r="2.7" fill="#5a5a58" opacity="0.35"/><circle cx="1184.1" cy="1066.4" r="2.6" fill="#5a5a58" opacity="0.35"/><circle cx="1187.2" cy="1059.6" r="2.5" fill="#5a5a58" opacity="0.35"/><circle cx="1203.6" cy="1073.5" r="2.2" fill="#5a5a58" opacity="0.35"/><circle cx="1181.0" cy="1071.0" r="2.0" fill="#5a5a58" opacity="0.35"/><circle cx="1182.3" cy="1090.6" r="2.8" fill="#5a5a58" opacity="0.35"/><circle cx="1203.8" cy="1092.0" r="2.5" fill="#5a5a58" opacity="0.35"/><circle cx="1181.0" cy="1083.0" r="2.2" fill="#5a5a58" opacity="0.35"/><circle cx="1202.9" cy="1061.7" r="2.4" fill="#5a5a58" opacity="0.35"/><circle cx="1192.3" cy="1058.4" r="2.0" fill="#5a5a58" opacity="0.35"/><circle cx="1196.8" cy="1086.7" r="2.0" fill="#5a5a58" opacity="0.35"/><circle cx="1187.2" cy="1090.0" r="2.7" fill="#5a5a58" opacity="0.35"/>
<circle cx="1227.3" cy="1181.8" r="1.8" fill="#3e2a12" opacity="0.7"/><circle cx="1224.3" cy="1184.2" r="2.5" fill="#3e2a12" opacity="0.7"/><circle cx="1232.6" cy="1183.0" r="1.7" fill="#3e2a12" opacity="0.7"/><circle cx="1245.4" cy="1185.5" r="2.3" fill="#3e2a12" opacity="0.7"/><circle cx="1233.0" cy="1189.1" r="1.9" fill="#3e2a12" opacity="0.7"/><circle cx="1207.3" cy="1189.7" r="2.1" fill="#3e2a12" opacity="0.7"/><circle cx="1209.5" cy="1184.6" r="2.1" fill="#3e2a12" opacity="0.7"/><circle cx="1259.5" cy="1189.0" r="2.0" fill="#3e2a12" opacity="0.7"/>
<circle cx="1168.3" cy="864.9" r="1.9" fill="#4a3418" opacity="0.5"/><circle cx="1145.9" cy="888.4" r="2.2" fill="#4a3418" opacity="0.5"/><circle cx="1157.1" cy="856.9" r="2.1" fill="#4a3418" opacity="0.5"/><circle cx="1170.2" cy="890.5" r="1.5" fill="#4a3418" opacity="0.5"/><circle cx="1151.6" cy="895.4" r="1.7" fill="#4a3418" opacity="0.5"/><circle cx="1146.3" cy="850.9" r="1.8" fill="#4a3418" opacity="0.5"/><circle cx="1154.6" cy="840.4" r="1.7" fill="#4a3418" opacity="0.5"/><circle cx="1157.1" cy="868.0" r="1.7" fill="#4a3418" opacity="0.5"/>
<path d="M1145.4 799.1 L1160 802.6 L1175 804.2 L1202 803.6 L1222 804.0 L1241.4 804.1 C1245.0 810.0 1256.1 828.2 1263.0 839.7 C1269.9 851.2 1277.7 861.9 1282.9 872.9 C1288.2 883.9 1291.5 895.0 1294.5 906.0 C1297.5 917.0 1299.3 928.2 1301.1 939.2 C1302.9 950.2 1304.2 962.2 1305.3 972.3 C1306.4 982.4 1307.3 987.1 1307.7 1000.0 C1308.1 1012.9 1308.4 1034.7 1307.9 1049.7 C1307.4 1064.7 1306.0 1078.3 1304.8 1090.0 C1303.6 1101.7 1302.3 1111.6 1300.8 1120.0 C1299.3 1128.4 1298.2 1133.5 1295.8 1140.3 C1293.4 1147.1 1290.2 1154.6 1286.6 1160.7 C1283.0 1166.8 1279.3 1172.2 1274.4 1177.0 C1269.5 1181.8 1262.5 1186.2 1257.1 1189.2 C1251.7 1192.2 1247.0 1193.9 1241.9 1195.3 C1236.8 1196.7 1231.7 1197.4 1226.6 1197.6 C1221.5 1197.8 1217.3 1197.7 1211.4 1196.6 C1205.5 1195.5 1197.8 1194.1 1191.0 1191.2 C1184.2 1188.3 1177.5 1183.8 1170.7 1179.0 C1163.9 1174.2 1157.1 1169.2 1150.3 1162.7 C1143.5 1156.2 1137.0 1150.8 1130.0 1140.3 C1123.0 1129.8 1114.3 1114.6 1108.2 1099.5 C1102.1 1084.4 1097.4 1066.3 1093.2 1049.7 C1089.0 1033.1 1085.0 1012.9 1083.3 1000.0 C1081.6 987.1 1082.9 982.4 1083.3 972.3 C1083.7 962.2 1084.6 950.2 1085.8 939.2 C1087.0 928.2 1088.6 917.0 1090.7 906.0 C1092.8 895.0 1094.6 883.9 1098.2 872.9 C1101.8 861.9 1104.4 852.0 1112.3 839.7 C1120.2 827.4 1139.9 805.9 1145.4 799.1Z" fill="none" stroke="#8a6a3a" stroke-width="12" opacity="0.22" filter="url(#bl2)"/>
</g>
<path d="M1145.4 799.1 L1160 802.6 L1175 804.2 L1202 803.6 L1222 804.0 L1241.4 804.1 C1245.0 810.0 1256.1 828.2 1263.0 839.7 C1269.9 851.2 1277.7 861.9 1282.9 872.9 C1288.2 883.9 1291.5 895.0 1294.5 906.0 C1297.5 917.0 1299.3 928.2 1301.1 939.2 C1302.9 950.2 1304.2 962.2 1305.3 972.3 C1306.4 982.4 1307.3 987.1 1307.7 1000.0 C1308.1 1012.9 1308.4 1034.7 1307.9 1049.7 C1307.4 1064.7 1306.0 1078.3 1304.8 1090.0 C1303.6 1101.7 1302.3 1111.6 1300.8 1120.0 C1299.3 1128.4 1298.2 1133.5 1295.8 1140.3 C1293.4 1147.1 1290.2 1154.6 1286.6 1160.7 C1283.0 1166.8 1279.3 1172.2 1274.4 1177.0 C1269.5 1181.8 1262.5 1186.2 1257.1 1189.2 C1251.7 1192.2 1247.0 1193.9 1241.9 1195.3 C1236.8 1196.7 1231.7 1197.4 1226.6 1197.6 C1221.5 1197.8 1217.3 1197.7 1211.4 1196.6 C1205.5 1195.5 1197.8 1194.1 1191.0 1191.2 C1184.2 1188.3 1177.5 1183.8 1170.7 1179.0 C1163.9 1174.2 1157.1 1169.2 1150.3 1162.7 C1143.5 1156.2 1137.0 1150.8 1130.0 1140.3 C1123.0 1129.8 1114.3 1114.6 1108.2 1099.5 C1102.1 1084.4 1097.4 1066.3 1093.2 1049.7 C1089.0 1033.1 1085.0 1012.9 1083.3 1000.0 C1081.6 987.1 1082.9 982.4 1083.3 972.3 C1083.7 962.2 1084.6 950.2 1085.8 939.2 C1087.0 928.2 1088.6 917.0 1090.7 906.0 C1092.8 895.0 1094.6 883.9 1098.2 872.9 C1101.8 861.9 1104.4 852.0 1112.3 839.7 C1120.2 827.4 1139.9 805.9 1145.4 799.1Z" fill="none" stroke="#5e4422" stroke-width="2.2"/>
<path d="M1206 800 C1228 792 1248 782 1263 766 Q1268 761 1271 763 C1272 772 1262 786 1243 804 Z" fill="#cdb88a" stroke="#4a3418" stroke-width="1.8"/>
<path d="M1214 798 C1235 790 1252 780 1266 766" fill="none" stroke="#6a4e24" stroke-width="1.5"/>
<g clip-path="url(#k5)">
<path d="M1645.2 976.3 C1645.3 979.6 1645.3 982.8 1645.2 986.2 C1645.2 989.6 1645.1 993.2 1644.9 996.8 C1644.8 1000.4 1644.5 1004.0 1644.3 1007.7 C1644.0 1011.3 1643.7 1015.0 1643.4 1018.6 C1643.0 1022.3 1642.6 1025.9 1642.1 1029.6 C1641.6 1033.2 1641.1 1036.9 1640.5 1040.5 C1640.0 1044.1 1639.3 1047.8 1638.7 1051.4 C1638.0 1054.9 1637.3 1058.5 1636.5 1062.1 C1635.7 1065.6 1634.9 1069.1 1634.0 1072.6 C1633.1 1076.0 1632.2 1079.5 1631.2 1082.9 C1630.3 1086.3 1629.2 1089.6 1628.2 1092.9 C1627.1 1096.2 1626.0 1099.5 1624.8 1102.7 C1623.7 1105.9 1622.5 1109.0 1621.2 1112.1 C1620.0 1115.2 1618.7 1118.2 1617.4 1121.1 C1616.1 1124.1 1614.7 1127.0 1613.3 1129.8 C1611.9 1132.6 1610.4 1135.4 1609.0 1138.1 C1607.5 1140.7 1606.0 1143.3 1604.4 1145.9 C1602.9 1148.4 1601.3 1150.8 1599.7 1153.2 C1598.1 1155.6 1596.4 1157.8 1594.8 1160.0 C1593.1 1162.2 1591.4 1164.3 1589.7 1166.4 C1588.0 1168.4 1586.2 1170.3 1584.4 1172.1 C1582.7 1174.0 1580.9 1175.7 1579.1 1177.4 C1577.3 1179.0 1575.5 1180.6 1573.6 1182.0 C1571.8 1183.5 1569.9 1184.8 1568.1 1186.1 C1566.2 1187.3 1564.3 1188.5 1562.5 1189.5 C1560.6 1190.6 1558.7 1191.5 1556.8 1192.4 C1555.0 1193.2 1553.1 1194.0 1551.2 1194.6 C1549.4 1195.2 1547.5 1195.8 1545.6 1196.2 C1543.8 1196.6 1541.9 1197.0 1540.2 1197.2 C1538.4 1197.4 1536.8 1197.5 1535.1 1197.5 C1533.4 1197.5 1531.7 1197.4 1530.0 1197.2 C1528.2 1197.0 1526.4 1196.7 1524.5 1196.2 C1522.7 1195.8 1520.8 1195.3 1518.9 1194.7 C1517.1 1194.0 1515.2 1193.3 1513.3 1192.5 C1511.4 1191.6 1509.5 1190.7 1507.7 1189.6 C1505.8 1188.6 1503.9 1187.4 1502.1 1186.2 C1500.2 1184.9 1498.3 1183.6 1496.5 1182.1 C1494.7 1180.7 1492.8 1179.2 1491.0 1177.5 C1489.2 1175.9 1487.4 1174.1 1485.6 1172.3 C1483.9 1170.5 1482.1 1168.6 1480.4 1166.5 C1478.7 1164.5 1477.0 1162.4 1475.3 1160.2 C1473.6 1158.1 1472.0 1155.8 1470.3 1153.4 C1468.7 1151.1 1467.1 1148.6 1465.6 1146.1 C1464.0 1143.6 1462.5 1141.0 1461.0 1138.3 C1459.5 1135.6 1458.1 1132.9 1456.6 1130.1 C1455.2 1127.3 1453.9 1124.4 1452.5 1121.4 C1451.2 1118.5 1449.9 1115.5 1448.6 1112.4 C1447.4 1109.3 1446.2 1106.2 1445.0 1103.0 C1443.8 1099.8 1442.7 1096.5 1441.6 1093.2 C1440.6 1089.9 1439.5 1086.6 1438.5 1083.2 C1437.6 1079.8 1436.6 1076.4 1435.7 1072.9 C1434.8 1069.5 1434.0 1065.9 1433.2 1062.4 C1432.4 1058.9 1431.7 1055.3 1431.0 1051.7 C1430.3 1048.1 1429.7 1044.5 1429.1 1040.9 C1428.5 1037.3 1428.0 1033.6 1427.5 1030.0 C1427.0 1026.3 1426.6 1022.6 1426.2 1019.0 C1425.8 1015.3 1425.5 1011.7 1425.2 1008.0 C1425.0 1004.4 1424.7 1000.8 1424.6 997.2 C1424.4 993.6 1424.3 990.0 1424.2 986.6 C1424.2 983.2 1424.2 980.0 1424.2 976.7 C1424.2 973.4 1424.3 970.2 1424.5 966.8 C1424.6 963.4 1424.8 959.8 1425.1 956.2 C1425.4 952.6 1425.7 949.0 1426.0 945.3 C1426.4 941.7 1426.8 938.0 1427.3 934.4 C1427.8 930.7 1428.3 927.1 1428.8 923.4 C1429.4 919.8 1430.0 916.1 1430.7 912.5 C1431.4 908.9 1432.1 905.2 1432.8 901.6 C1433.6 898.1 1434.4 894.5 1435.3 890.9 C1436.1 887.4 1437.0 883.9 1438.0 880.4 C1438.9 877.0 1439.9 873.5 1440.9 870.1 C1441.9 866.7 1443.0 863.4 1444.1 860.1 C1445.2 856.8 1446.4 853.5 1447.6 850.3 C1448.8 847.1 1450.0 844.0 1451.3 840.9 C1452.5 837.8 1453.9 834.8 1455.2 831.9 C1456.5 828.9 1457.9 826.0 1459.3 823.2 C1460.7 820.4 1462.1 817.6 1463.6 814.9 C1465.1 812.3 1466.6 809.7 1468.1 807.1 C1469.6 804.6 1471.2 802.2 1472.7 799.8 C1474.3 797.4 1475.9 795.2 1477.5 793.0 C1479.2 790.8 1480.8 788.7 1482.5 786.6 C1484.1 784.6 1485.8 782.7 1487.5 780.9 C1489.2 779.0 1490.9 777.3 1492.7 775.6 C1494.4 774.0 1496.1 772.4 1497.9 771.0 C1499.6 769.5 1501.4 768.2 1503.1 766.9 C1504.9 765.7 1506.7 764.5 1508.5 763.5 C1510.2 762.4 1512.0 761.5 1513.8 760.6 C1515.6 759.8 1517.3 759.0 1519.1 758.4 C1520.9 757.8 1522.6 757.2 1524.4 756.8 C1526.1 756.4 1527.9 756.0 1529.5 755.8 C1531.2 755.6 1532.7 755.5 1534.3 755.5 C1535.9 755.5 1537.5 755.6 1539.1 755.8 C1540.8 756.0 1542.5 756.3 1544.3 756.8 C1546.0 757.2 1547.8 757.7 1549.5 758.3 C1551.3 759.0 1553.1 759.7 1554.9 760.5 C1556.6 761.4 1558.4 762.3 1560.2 763.4 C1562.0 764.4 1563.8 765.6 1565.5 766.8 C1567.3 768.1 1569.1 769.4 1570.8 770.9 C1572.6 772.3 1574.3 773.9 1576.0 775.5 C1577.8 777.1 1579.5 778.9 1581.2 780.7 C1582.9 782.5 1584.6 784.5 1586.3 786.5 C1587.9 788.5 1589.6 790.6 1591.2 792.8 C1592.8 795.0 1594.5 797.2 1596.0 799.6 C1597.6 801.9 1599.2 804.4 1600.7 806.9 C1602.2 809.4 1603.7 812.0 1605.2 814.7 C1606.7 817.4 1608.1 820.1 1609.6 822.9 C1611.0 825.7 1612.4 828.6 1613.7 831.6 C1615.1 834.5 1616.4 837.5 1617.6 840.6 C1618.9 843.7 1620.2 846.8 1621.4 850.0 C1622.6 853.2 1623.7 856.5 1624.9 859.8 C1626.0 863.1 1627.1 866.4 1628.1 869.8 C1629.2 873.2 1630.2 876.6 1631.1 880.1 C1632.1 883.6 1633.0 887.1 1633.8 890.6 C1634.7 894.1 1635.5 897.7 1636.3 901.3 C1637.1 904.9 1637.8 908.5 1638.5 912.1 C1639.2 915.7 1639.8 919.4 1640.4 923.0 C1641.0 926.7 1641.5 930.4 1642.0 934.0 C1642.4 937.7 1642.9 941.3 1643.2 945.0 C1643.6 948.6 1644.0 952.2 1644.2 955.8 C1644.5 959.4 1644.7 963.0 1644.9 966.4 C1645.0 969.8 1645.1 973.0 1645.2 976.3Z" fill="#9a8444"/>
<rect x="1307.7" y="750.6" width="453.6" height="453.6" filter="url(#t5b)" opacity="0.75"/>
<path d="M1621.2 976.3 C1621.2 979.3 1621.2 982.1 1621.2 985.2 C1621.2 988.2 1621.1 991.4 1620.9 994.6 C1620.8 997.8 1620.7 1001.1 1620.5 1004.3 C1620.2 1007.5 1620.0 1010.8 1619.7 1014.1 C1619.4 1017.3 1619.1 1020.6 1618.7 1023.8 C1618.4 1027.1 1617.9 1030.3 1617.5 1033.6 C1617.0 1036.8 1616.5 1040.0 1616.0 1043.2 C1615.5 1046.4 1614.9 1049.6 1614.3 1052.8 C1613.7 1055.9 1613.0 1059.1 1612.3 1062.2 C1611.7 1065.3 1610.9 1068.3 1610.2 1071.3 C1609.4 1074.4 1608.6 1077.3 1607.8 1080.3 C1606.9 1083.2 1606.1 1086.1 1605.2 1089.0 C1604.3 1091.8 1603.3 1094.6 1602.3 1097.4 C1601.4 1100.1 1600.4 1102.8 1599.3 1105.4 C1598.3 1108.1 1597.2 1110.7 1596.1 1113.2 C1595.0 1115.7 1593.9 1118.1 1592.7 1120.5 C1591.6 1122.9 1590.4 1125.2 1589.2 1127.5 C1588.0 1129.7 1586.7 1131.9 1585.5 1134.0 C1584.2 1136.1 1582.9 1138.2 1581.6 1140.1 C1580.3 1142.1 1579.0 1143.9 1577.7 1145.7 C1576.3 1147.5 1574.9 1149.3 1573.6 1150.9 C1572.2 1152.5 1570.8 1154.1 1569.4 1155.6 C1568.0 1157.0 1566.6 1158.4 1565.1 1159.7 C1563.7 1161.0 1562.2 1162.2 1560.8 1163.3 C1559.3 1164.4 1557.9 1165.5 1556.4 1166.4 C1555.0 1167.3 1553.5 1168.2 1552.0 1168.9 C1550.6 1169.7 1549.1 1170.4 1547.6 1170.9 C1546.2 1171.5 1544.7 1172.0 1543.3 1172.3 C1541.8 1172.7 1540.4 1173.0 1539.0 1173.2 C1537.6 1173.4 1536.4 1173.5 1535.0 1173.5 C1533.7 1173.5 1532.4 1173.4 1531.1 1173.2 C1529.7 1173.0 1528.2 1172.8 1526.8 1172.4 C1525.4 1172.0 1523.9 1171.5 1522.4 1171.0 C1521.0 1170.4 1519.5 1169.7 1518.0 1169.0 C1516.6 1168.3 1515.1 1167.4 1513.6 1166.5 C1512.2 1165.5 1510.7 1164.5 1509.3 1163.4 C1507.8 1162.3 1506.4 1161.1 1504.9 1159.8 C1503.5 1158.5 1502.1 1157.1 1500.6 1155.7 C1499.2 1154.2 1497.8 1152.7 1496.4 1151.0 C1495.1 1149.4 1493.7 1147.7 1492.3 1145.9 C1491.0 1144.1 1489.7 1142.2 1488.3 1140.3 C1487.0 1138.3 1485.7 1136.3 1484.5 1134.2 C1483.2 1132.1 1482.0 1129.9 1480.7 1127.7 C1479.5 1125.4 1478.3 1123.1 1477.2 1120.7 C1476.0 1118.3 1474.9 1115.9 1473.8 1113.4 C1472.7 1110.9 1471.6 1108.3 1470.5 1105.7 C1469.5 1103.0 1468.5 1100.4 1467.5 1097.6 C1466.5 1094.9 1465.6 1092.1 1464.6 1089.2 C1463.7 1086.4 1462.8 1083.5 1462.0 1080.5 C1461.1 1077.6 1460.3 1074.6 1459.6 1071.6 C1458.8 1068.6 1458.1 1065.5 1457.4 1062.4 C1456.7 1059.3 1456.0 1056.2 1455.4 1053.1 C1454.7 1049.9 1454.2 1046.7 1453.6 1043.5 C1453.1 1040.3 1452.6 1037.1 1452.1 1033.9 C1451.7 1030.6 1451.2 1027.4 1450.8 1024.1 C1450.5 1020.9 1450.1 1017.6 1449.8 1014.4 C1449.5 1011.1 1449.3 1007.8 1449.0 1004.6 C1448.8 1001.4 1448.7 998.1 1448.5 994.9 C1448.4 991.7 1448.3 988.5 1448.2 985.5 C1448.2 982.4 1448.2 979.6 1448.2 976.7 C1448.2 973.7 1448.3 970.9 1448.4 967.8 C1448.5 964.8 1448.7 961.6 1448.9 958.4 C1449.1 955.2 1449.3 951.9 1449.6 948.7 C1449.9 945.5 1450.2 942.2 1450.6 938.9 C1450.9 935.7 1451.3 932.4 1451.8 929.2 C1452.2 925.9 1452.7 922.6 1453.2 919.4 C1453.7 916.2 1454.3 913.0 1454.9 909.8 C1455.4 906.6 1456.1 903.4 1456.7 900.2 C1457.4 897.1 1458.1 893.9 1458.8 890.8 C1459.6 887.7 1460.3 884.7 1461.1 881.7 C1461.9 878.6 1462.8 875.6 1463.7 872.7 C1464.5 869.8 1465.4 866.9 1466.4 864.0 C1467.3 861.2 1468.3 858.4 1469.2 855.6 C1470.2 852.9 1471.3 850.2 1472.3 847.5 C1473.3 844.9 1474.4 842.3 1475.5 839.8 C1476.6 837.3 1477.7 834.9 1478.9 832.5 C1480.0 830.1 1481.2 827.8 1482.4 825.5 C1483.6 823.3 1484.8 821.1 1486.0 819.0 C1487.3 816.9 1488.5 814.8 1489.8 812.9 C1491.1 810.9 1492.4 809.0 1493.7 807.3 C1495.0 805.5 1496.3 803.7 1497.6 802.1 C1498.9 800.5 1500.3 798.9 1501.6 797.4 C1503.0 796.0 1504.4 794.6 1505.7 793.3 C1507.1 792.0 1508.5 790.8 1509.9 789.7 C1511.3 788.6 1512.7 787.5 1514.1 786.6 C1515.4 785.7 1516.8 784.8 1518.2 784.1 C1519.6 783.3 1521.0 782.6 1522.4 782.1 C1523.8 781.5 1525.2 781.0 1526.5 780.6 C1527.9 780.3 1529.3 780.0 1530.6 779.8 C1531.9 779.6 1533.1 779.5 1534.4 779.5 C1535.6 779.5 1536.8 779.6 1538.1 779.8 C1539.4 780.0 1540.8 780.2 1542.2 780.6 C1543.5 781.0 1544.9 781.5 1546.3 782.0 C1547.7 782.6 1549.1 783.3 1550.5 784.0 C1551.9 784.7 1553.3 785.6 1554.7 786.5 C1556.1 787.5 1557.5 788.5 1558.9 789.6 C1560.3 790.7 1561.6 791.9 1563.0 793.2 C1564.4 794.5 1565.8 795.9 1567.1 797.3 C1568.5 798.8 1569.8 800.3 1571.2 802.0 C1572.5 803.6 1573.8 805.3 1575.1 807.1 C1576.5 808.9 1577.8 810.8 1579.0 812.7 C1580.3 814.7 1581.6 816.7 1582.8 818.8 C1584.0 820.9 1585.3 823.1 1586.5 825.3 C1587.7 827.6 1588.9 829.9 1590.0 832.3 C1591.2 834.7 1592.3 837.1 1593.4 839.6 C1594.5 842.1 1595.6 844.7 1596.7 847.3 C1597.7 850.0 1598.7 852.7 1599.7 855.4 C1600.7 858.1 1601.7 860.9 1602.6 863.8 C1603.6 866.6 1604.5 869.5 1605.4 872.5 C1606.3 875.4 1607.1 878.4 1607.9 881.4 C1608.7 884.4 1609.5 887.5 1610.3 890.6 C1611.0 893.7 1611.7 896.8 1612.4 899.9 C1613.1 903.1 1613.7 906.3 1614.3 909.5 C1614.9 912.7 1615.5 915.9 1616.0 919.1 C1616.5 922.4 1617.0 925.6 1617.5 928.9 C1617.9 932.1 1618.3 935.4 1618.7 938.6 C1619.1 941.9 1619.4 945.2 1619.7 948.4 C1620.0 951.6 1620.2 954.9 1620.5 958.1 C1620.7 961.3 1620.8 964.5 1621.0 967.5 C1621.1 970.6 1621.2 973.4 1621.2 976.3Z" fill="#6e6238" opacity="0.35" filter="url(#bl8)"/>
<path d="M1635.2 976.3 C1635.2 979.5 1635.2 982.5 1635.2 985.8 C1635.2 989.0 1635.1 992.5 1634.9 995.9 C1634.8 999.3 1634.6 1002.8 1634.4 1006.3 C1634.1 1009.7 1633.8 1013.2 1633.5 1016.7 C1633.2 1020.2 1632.8 1023.7 1632.4 1027.2 C1631.9 1030.7 1631.5 1034.2 1630.9 1037.6 C1630.4 1041.1 1629.8 1044.5 1629.2 1048.0 C1628.6 1051.4 1627.9 1054.8 1627.2 1058.2 C1626.5 1061.6 1625.8 1064.9 1625.0 1068.2 C1624.2 1071.5 1623.3 1074.8 1622.4 1078.1 C1621.6 1081.3 1620.6 1084.5 1619.7 1087.7 C1618.7 1090.8 1617.7 1093.9 1616.6 1097.0 C1615.6 1100.0 1614.5 1103.0 1613.4 1106.0 C1612.2 1108.9 1611.1 1111.8 1609.8 1114.6 C1608.6 1117.4 1607.4 1120.2 1606.1 1122.9 C1604.8 1125.6 1603.5 1128.2 1602.2 1130.8 C1600.8 1133.3 1599.5 1135.8 1598.1 1138.2 C1596.7 1140.6 1595.2 1143.0 1593.8 1145.2 C1592.3 1147.5 1590.8 1149.6 1589.3 1151.7 C1587.8 1153.8 1586.2 1155.8 1584.7 1157.8 C1583.1 1159.7 1581.5 1161.5 1579.9 1163.3 C1578.3 1165.0 1576.7 1166.7 1575.0 1168.3 C1573.4 1169.8 1571.7 1171.3 1570.1 1172.7 C1568.4 1174.1 1566.7 1175.4 1565.0 1176.6 C1563.3 1177.8 1561.6 1178.9 1559.9 1179.9 C1558.2 1180.9 1556.5 1181.8 1554.8 1182.6 C1553.1 1183.4 1551.4 1184.1 1549.7 1184.7 C1548.0 1185.3 1546.3 1185.9 1544.7 1186.3 C1543.0 1186.7 1541.3 1187.0 1539.7 1187.2 C1538.1 1187.4 1536.6 1187.5 1535.1 1187.5 C1533.5 1187.5 1532.0 1187.4 1530.4 1187.2 C1528.8 1187.0 1527.1 1186.7 1525.5 1186.3 C1523.8 1185.9 1522.1 1185.4 1520.4 1184.8 C1518.7 1184.2 1517.0 1183.5 1515.3 1182.7 C1513.6 1181.9 1511.9 1181.0 1510.2 1180.0 C1508.5 1179.0 1506.8 1177.9 1505.1 1176.7 C1503.4 1175.5 1501.7 1174.2 1500.0 1172.8 C1498.3 1171.5 1496.7 1170.0 1495.0 1168.4 C1493.4 1166.8 1491.8 1165.2 1490.1 1163.4 C1488.5 1161.7 1486.9 1159.9 1485.4 1157.9 C1483.8 1156.0 1482.3 1154.0 1480.7 1151.9 C1479.2 1149.8 1477.7 1147.7 1476.2 1145.4 C1474.8 1143.2 1473.3 1140.8 1471.9 1138.4 C1470.5 1136.0 1469.1 1133.5 1467.7 1131.0 C1466.4 1128.4 1465.1 1125.8 1463.8 1123.1 C1462.5 1120.4 1461.2 1117.7 1460.0 1114.9 C1458.8 1112.0 1457.6 1109.2 1456.5 1106.2 C1455.4 1103.3 1454.3 1100.3 1453.2 1097.2 C1452.1 1094.2 1451.1 1091.1 1450.1 1087.9 C1449.1 1084.8 1448.2 1081.6 1447.3 1078.4 C1446.4 1075.1 1445.6 1071.9 1444.7 1068.5 C1443.9 1065.2 1443.2 1061.9 1442.5 1058.5 C1441.7 1055.1 1441.1 1051.7 1440.4 1048.3 C1439.8 1044.9 1439.2 1041.4 1438.7 1038.0 C1438.2 1034.5 1437.7 1031.0 1437.2 1027.5 C1436.8 1024.0 1436.4 1020.5 1436.0 1017.1 C1435.7 1013.6 1435.4 1010.1 1435.2 1006.6 C1434.9 1003.1 1434.7 999.7 1434.5 996.3 C1434.4 992.8 1434.3 989.4 1434.2 986.1 C1434.2 982.9 1434.2 979.8 1434.2 976.7 C1434.2 973.5 1434.3 970.5 1434.5 967.2 C1434.6 964.0 1434.8 960.5 1435.0 957.1 C1435.2 953.7 1435.5 950.2 1435.9 946.7 C1436.2 943.3 1436.6 939.8 1437.0 936.3 C1437.4 932.8 1437.9 929.3 1438.4 925.8 C1438.9 922.3 1439.5 918.8 1440.1 915.4 C1440.7 911.9 1441.3 908.4 1442.0 905.0 C1442.7 901.6 1443.4 898.2 1444.2 894.8 C1445.0 891.4 1445.8 888.1 1446.6 884.8 C1447.5 881.4 1448.4 878.2 1449.3 874.9 C1450.3 871.7 1451.2 868.5 1452.3 865.3 C1453.3 862.2 1454.3 859.1 1455.4 856.0 C1456.5 853.0 1457.6 850.0 1458.8 847.0 C1459.9 844.1 1461.1 841.2 1462.3 838.4 C1463.5 835.6 1464.8 832.8 1466.1 830.1 C1467.3 827.4 1468.6 824.8 1470.0 822.2 C1471.3 819.7 1472.7 817.2 1474.0 814.8 C1475.4 812.4 1476.8 810.0 1478.3 807.8 C1479.7 805.5 1481.2 803.4 1482.6 801.3 C1484.1 799.2 1485.6 797.2 1487.1 795.2 C1488.6 793.3 1490.2 791.5 1491.7 789.7 C1493.3 788.0 1494.8 786.3 1496.4 784.7 C1498.0 783.2 1499.6 781.7 1501.1 780.3 C1502.7 778.9 1504.3 777.6 1505.9 776.4 C1507.6 775.2 1509.2 774.1 1510.8 773.1 C1512.4 772.1 1514.0 771.2 1515.6 770.4 C1517.3 769.6 1518.9 768.9 1520.5 768.3 C1522.1 767.6 1523.7 767.1 1525.3 766.7 C1526.9 766.3 1528.4 766.0 1530.0 765.8 C1531.5 765.6 1532.9 765.5 1534.3 765.5 C1535.8 765.5 1537.2 765.6 1538.7 765.8 C1540.2 766.0 1541.8 766.3 1543.4 766.7 C1545.0 767.1 1546.6 767.6 1548.2 768.2 C1549.8 768.8 1551.4 769.5 1553.0 770.3 C1554.7 771.1 1556.3 772.0 1557.9 773.0 C1559.5 774.0 1561.1 775.1 1562.8 776.3 C1564.4 777.5 1566.0 778.8 1567.6 780.2 C1569.2 781.5 1570.8 783.0 1572.3 784.6 C1573.9 786.2 1575.5 787.8 1577.0 789.6 C1578.6 791.3 1580.1 793.1 1581.6 795.1 C1583.2 797.0 1584.7 799.0 1586.1 801.1 C1587.6 803.2 1589.1 805.3 1590.5 807.6 C1592.0 809.8 1593.4 812.2 1594.8 814.6 C1596.2 817.0 1597.5 819.5 1598.9 822.0 C1600.2 824.6 1601.6 827.2 1602.8 829.9 C1604.1 832.6 1605.4 835.3 1606.6 838.1 C1607.8 841.0 1609.0 843.8 1610.2 846.8 C1611.4 849.7 1612.5 852.7 1613.6 855.8 C1614.7 858.8 1615.7 861.9 1616.8 865.1 C1617.8 868.2 1618.8 871.4 1619.7 874.6 C1620.7 877.9 1621.6 881.1 1622.4 884.5 C1623.3 887.8 1624.1 891.1 1624.9 894.5 C1625.7 897.9 1626.4 901.3 1627.2 904.7 C1627.9 908.1 1628.5 911.6 1629.1 915.0 C1629.7 918.5 1630.3 922.0 1630.8 925.5 C1631.4 929.0 1631.8 932.5 1632.3 935.9 C1632.7 939.4 1633.1 942.9 1633.4 946.4 C1633.8 949.9 1634.1 953.3 1634.3 956.7 C1634.6 960.2 1634.8 963.6 1634.9 966.9 C1635.1 970.1 1635.2 973.2 1635.2 976.3Z" fill="none" stroke="#c89e46" stroke-width="18" opacity="0.6" filter="url(#bl4)"/>
<rect x="1307.7" y="750.6" width="453.6" height="453.6" filter="url(#t5)" opacity="0.85"/>
<path d="M1639.2 976.3 C1639.3 979.5 1639.3 982.6 1639.2 986.0 C1639.2 989.3 1639.1 992.8 1638.9 996.3 C1638.8 999.8 1638.6 1003.3 1638.3 1006.8 C1638.1 1010.4 1637.8 1013.9 1637.4 1017.5 C1637.1 1021.0 1636.7 1024.6 1636.3 1028.1 C1635.8 1031.7 1635.3 1035.3 1634.8 1038.8 C1634.2 1042.3 1633.6 1045.8 1633.0 1049.3 C1632.4 1052.8 1631.7 1056.3 1630.9 1059.7 C1630.2 1063.2 1629.4 1066.6 1628.6 1070.0 C1627.8 1073.3 1626.9 1076.7 1626.0 1080.0 C1625.0 1083.3 1624.1 1086.5 1623.1 1089.8 C1622.1 1093.0 1621.0 1096.1 1619.9 1099.2 C1618.8 1102.3 1617.7 1105.4 1616.5 1108.4 C1615.3 1111.4 1614.1 1114.3 1612.9 1117.2 C1611.6 1120.1 1610.3 1122.9 1609.0 1125.7 C1607.7 1128.4 1606.3 1131.1 1604.9 1133.7 C1603.5 1136.3 1602.1 1138.8 1600.6 1141.3 C1599.1 1143.7 1597.6 1146.1 1596.1 1148.4 C1594.6 1150.7 1593.0 1152.9 1591.5 1155.1 C1589.9 1157.2 1588.3 1159.2 1586.7 1161.2 C1585.0 1163.2 1583.4 1165.0 1581.7 1166.8 C1580.1 1168.6 1578.4 1170.3 1576.7 1171.9 C1575.0 1173.5 1573.2 1175.0 1571.5 1176.4 C1569.8 1177.8 1568.0 1179.2 1566.3 1180.4 C1564.5 1181.6 1562.7 1182.7 1561.0 1183.7 C1559.2 1184.8 1557.4 1185.7 1555.6 1186.5 C1553.9 1187.3 1552.1 1188.1 1550.3 1188.7 C1548.6 1189.3 1546.8 1189.8 1545.1 1190.2 C1543.3 1190.7 1541.6 1191.0 1539.9 1191.2 C1538.2 1191.4 1536.7 1191.5 1535.1 1191.5 C1533.5 1191.5 1531.9 1191.4 1530.3 1191.2 C1528.6 1191.0 1526.8 1190.7 1525.1 1190.3 C1523.4 1189.9 1521.6 1189.4 1519.8 1188.7 C1518.1 1188.1 1516.3 1187.4 1514.5 1186.6 C1512.7 1185.8 1510.9 1184.9 1509.2 1183.8 C1507.4 1182.8 1505.6 1181.7 1503.9 1180.5 C1502.1 1179.3 1500.3 1178.0 1498.6 1176.6 C1496.9 1175.2 1495.1 1173.6 1493.4 1172.1 C1491.7 1170.5 1490.0 1168.8 1488.3 1167.0 C1486.7 1165.2 1485.0 1163.3 1483.4 1161.4 C1481.7 1159.4 1480.1 1157.4 1478.6 1155.3 C1477.0 1153.1 1475.4 1150.9 1473.9 1148.6 C1472.3 1146.3 1470.8 1143.9 1469.4 1141.5 C1467.9 1139.0 1466.5 1136.5 1465.1 1133.9 C1463.6 1131.3 1462.3 1128.6 1460.9 1125.9 C1459.6 1123.2 1458.3 1120.4 1457.0 1117.5 C1455.8 1114.6 1454.5 1111.7 1453.4 1108.7 C1452.2 1105.7 1451.0 1102.6 1449.9 1099.5 C1448.8 1096.4 1447.7 1093.3 1446.7 1090.1 C1445.7 1086.9 1444.7 1083.6 1443.8 1080.3 C1442.9 1077.0 1442.0 1073.7 1441.1 1070.3 C1440.3 1066.9 1439.5 1063.5 1438.8 1060.1 C1438.0 1056.6 1437.3 1053.2 1436.7 1049.7 C1436.0 1046.2 1435.4 1042.7 1434.8 1039.1 C1434.3 1035.6 1433.8 1032.1 1433.3 1028.5 C1432.9 1025.0 1432.5 1021.4 1432.1 1017.8 C1431.7 1014.3 1431.4 1010.7 1431.2 1007.2 C1430.9 1003.7 1430.7 1000.1 1430.6 996.6 C1430.4 993.2 1430.3 989.6 1430.2 986.3 C1430.2 983.0 1430.2 979.9 1430.2 976.7 C1430.2 973.5 1430.3 970.4 1430.5 967.0 C1430.6 963.7 1430.8 960.2 1431.0 956.7 C1431.3 953.2 1431.6 949.7 1431.9 946.2 C1432.3 942.6 1432.7 939.1 1433.1 935.5 C1433.5 932.0 1434.0 928.4 1434.6 924.8 C1435.1 921.3 1435.7 917.7 1436.3 914.2 C1436.9 910.7 1437.6 907.2 1438.3 903.7 C1439.0 900.2 1439.8 896.7 1440.6 893.3 C1441.4 889.8 1442.3 886.4 1443.2 883.0 C1444.1 879.6 1445.0 876.3 1446.0 873.0 C1446.9 869.7 1448.0 866.4 1449.0 863.2 C1450.1 860.0 1451.1 856.9 1452.3 853.8 C1453.4 850.6 1454.6 847.6 1455.8 844.6 C1457.0 841.6 1458.2 838.7 1459.5 835.8 C1460.7 832.9 1462.0 830.1 1463.4 827.3 C1464.7 824.6 1466.0 821.9 1467.4 819.3 C1468.8 816.7 1470.2 814.2 1471.7 811.7 C1473.1 809.3 1474.6 806.9 1476.1 804.6 C1477.6 802.3 1479.1 800.1 1480.6 797.9 C1482.1 795.8 1483.7 793.8 1485.3 791.8 C1486.8 789.8 1488.4 788.0 1490.0 786.2 C1491.6 784.4 1493.3 782.7 1494.9 781.1 C1496.5 779.5 1498.2 778.0 1499.8 776.6 C1501.5 775.2 1503.2 773.8 1504.8 772.6 C1506.5 771.4 1508.2 770.3 1509.9 769.2 C1511.5 768.2 1513.2 767.3 1514.9 766.5 C1516.6 765.7 1518.3 764.9 1519.9 764.3 C1521.6 763.7 1523.3 763.2 1524.9 762.8 C1526.6 762.3 1528.2 762.0 1529.8 761.8 C1531.3 761.6 1532.8 761.5 1534.3 761.5 C1535.8 761.5 1537.3 761.6 1538.9 761.8 C1540.4 762.0 1542.1 762.3 1543.7 762.7 C1545.4 763.1 1547.1 763.6 1548.7 764.3 C1550.4 764.9 1552.1 765.6 1553.8 766.4 C1555.4 767.2 1557.1 768.1 1558.8 769.2 C1560.5 770.2 1562.2 771.3 1563.9 772.5 C1565.5 773.7 1567.2 775.0 1568.9 776.4 C1570.5 777.9 1572.2 779.4 1573.8 781.0 C1575.5 782.5 1577.1 784.2 1578.7 786.0 C1580.3 787.8 1581.9 789.7 1583.5 791.6 C1585.1 793.6 1586.6 795.6 1588.2 797.8 C1589.7 799.9 1591.2 802.1 1592.7 804.4 C1594.2 806.7 1595.7 809.1 1597.2 811.5 C1598.6 814.0 1600.0 816.5 1601.4 819.1 C1602.8 821.7 1604.2 824.4 1605.5 827.1 C1606.9 829.8 1608.2 832.6 1609.4 835.5 C1610.7 838.4 1612.0 841.3 1613.2 844.3 C1614.4 847.3 1615.6 850.4 1616.7 853.5 C1617.8 856.6 1618.9 859.7 1620.0 862.9 C1621.1 866.1 1622.1 869.4 1623.1 872.7 C1624.1 876.0 1625.0 879.3 1625.9 882.7 C1626.8 886.1 1627.7 889.5 1628.5 892.9 C1629.3 896.4 1630.1 899.8 1630.8 903.3 C1631.5 906.8 1632.2 910.3 1632.9 913.9 C1633.5 917.4 1634.1 921.0 1634.7 924.5 C1635.2 928.0 1635.7 931.6 1636.2 935.2 C1636.6 938.7 1637.0 942.3 1637.4 945.8 C1637.7 949.3 1638.0 952.9 1638.3 956.4 C1638.5 959.8 1638.7 963.4 1638.9 966.7 C1639.0 970.0 1639.1 973.1 1639.2 976.3Z" fill="none" stroke="#d6b050" stroke-width="8" opacity="0.3" filter="url(#bl2)"/>
</g>
<path d="M1644.0 976.3 C1644.1 979.6 1644.1 982.8 1644.0 986.2 C1644.0 989.6 1643.9 993.2 1643.7 996.7 C1643.6 1000.3 1643.4 1003.9 1643.1 1007.5 C1642.8 1011.1 1642.5 1014.8 1642.2 1018.4 C1641.8 1022.0 1641.4 1025.7 1640.9 1029.3 C1640.5 1032.9 1640.0 1036.6 1639.4 1040.2 C1638.8 1043.8 1638.2 1047.4 1637.5 1050.9 C1636.9 1054.5 1636.1 1058.1 1635.4 1061.6 C1634.6 1065.1 1633.8 1068.6 1632.9 1072.1 C1632.1 1075.5 1631.1 1078.9 1630.2 1082.3 C1629.2 1085.7 1628.2 1089.0 1627.2 1092.3 C1626.1 1095.6 1625.0 1098.8 1623.9 1102.0 C1622.7 1105.2 1621.5 1108.3 1620.3 1111.3 C1619.1 1114.4 1617.8 1117.4 1616.5 1120.4 C1615.2 1123.3 1613.8 1126.2 1612.4 1129.0 C1611.0 1131.8 1609.6 1134.5 1608.1 1137.2 C1606.7 1139.8 1605.2 1142.4 1603.7 1144.9 C1602.1 1147.5 1600.6 1149.9 1599.0 1152.2 C1597.4 1154.6 1595.8 1156.9 1594.1 1159.0 C1592.5 1161.2 1590.8 1163.3 1589.1 1165.3 C1587.4 1167.3 1585.6 1169.2 1583.9 1171.1 C1582.2 1172.9 1580.4 1174.6 1578.6 1176.3 C1576.8 1177.9 1575.0 1179.4 1573.2 1180.9 C1571.4 1182.3 1569.6 1183.7 1567.7 1184.9 C1565.9 1186.2 1564.0 1187.3 1562.2 1188.4 C1560.3 1189.4 1558.5 1190.4 1556.6 1191.2 C1554.8 1192.1 1552.9 1192.8 1551.0 1193.4 C1549.2 1194.1 1547.3 1194.6 1545.5 1195.0 C1543.7 1195.4 1541.9 1195.8 1540.1 1196.0 C1538.4 1196.2 1536.8 1196.3 1535.1 1196.3 C1533.4 1196.3 1531.8 1196.2 1530.0 1196.0 C1528.3 1195.8 1526.5 1195.5 1524.6 1195.1 C1522.8 1194.6 1521.0 1194.1 1519.1 1193.5 C1517.3 1192.9 1515.4 1192.1 1513.5 1191.3 C1511.7 1190.4 1509.8 1189.5 1508.0 1188.5 C1506.1 1187.4 1504.3 1186.3 1502.4 1185.0 C1500.6 1183.8 1498.7 1182.5 1496.9 1181.0 C1495.1 1179.6 1493.3 1178.1 1491.5 1176.4 C1489.7 1174.8 1487.9 1173.1 1486.2 1171.2 C1484.4 1169.4 1482.7 1167.5 1481.0 1165.5 C1479.3 1163.5 1477.6 1161.4 1475.9 1159.2 C1474.3 1157.1 1472.6 1154.8 1471.0 1152.5 C1469.4 1150.1 1467.9 1147.7 1466.3 1145.2 C1464.8 1142.7 1463.3 1140.1 1461.8 1137.4 C1460.3 1134.8 1458.9 1132.0 1457.5 1129.2 C1456.1 1126.4 1454.7 1123.6 1453.4 1120.6 C1452.1 1117.7 1450.8 1114.7 1449.6 1111.6 C1448.3 1108.6 1447.1 1105.5 1446.0 1102.3 C1444.8 1099.1 1443.7 1095.9 1442.7 1092.6 C1441.6 1089.3 1440.6 1086.0 1439.6 1082.6 C1438.6 1079.3 1437.7 1075.8 1436.8 1072.4 C1435.9 1068.9 1435.1 1065.5 1434.3 1061.9 C1433.5 1058.4 1432.8 1054.9 1432.1 1051.3 C1431.4 1047.7 1430.8 1044.1 1430.2 1040.5 C1429.7 1036.9 1429.1 1033.3 1428.7 1029.7 C1428.2 1026.0 1427.7 1022.4 1427.4 1018.8 C1427.0 1015.1 1426.7 1011.5 1426.4 1007.9 C1426.1 1004.3 1425.9 1000.6 1425.8 997.1 C1425.6 993.5 1425.5 989.9 1425.4 986.5 C1425.4 983.1 1425.4 980.0 1425.4 976.7 C1425.4 973.4 1425.5 970.2 1425.7 966.8 C1425.8 963.4 1426.0 959.8 1426.3 956.3 C1426.6 952.7 1426.9 949.1 1427.2 945.5 C1427.6 941.9 1428.0 938.2 1428.4 934.6 C1428.9 931.0 1429.4 927.3 1430.0 923.7 C1430.5 920.1 1431.2 916.4 1431.8 912.8 C1432.5 909.2 1433.2 905.6 1433.9 902.0 C1434.7 898.5 1435.5 894.9 1436.3 891.4 C1437.2 887.9 1438.1 884.4 1439.0 880.9 C1439.9 877.5 1440.9 874.1 1441.9 870.7 C1442.9 867.3 1444.0 864.0 1445.1 860.7 C1446.2 857.4 1447.3 854.2 1448.5 851.0 C1449.7 847.8 1450.9 844.7 1452.2 841.7 C1453.4 838.6 1454.7 835.6 1456.0 832.6 C1457.4 829.7 1458.7 826.8 1460.1 824.0 C1461.5 821.2 1462.9 818.5 1464.4 815.8 C1465.8 813.2 1467.3 810.6 1468.8 808.0 C1470.3 805.5 1471.9 803.1 1473.4 800.8 C1475.0 798.4 1476.6 796.1 1478.2 794.0 C1479.8 791.8 1481.4 789.7 1483.0 787.7 C1484.7 785.7 1486.3 783.7 1488.0 781.9 C1489.7 780.1 1491.4 778.4 1493.1 776.7 C1494.8 775.1 1496.5 773.5 1498.3 772.1 C1500.0 770.7 1501.7 769.3 1503.5 768.1 C1505.2 766.8 1507.0 765.7 1508.7 764.6 C1510.5 763.6 1512.3 762.6 1514.0 761.8 C1515.8 760.9 1517.5 760.2 1519.3 759.6 C1521.0 758.9 1522.8 758.4 1524.5 758.0 C1526.2 757.6 1527.9 757.2 1529.6 757.0 C1531.2 756.8 1532.7 756.7 1534.3 756.7 C1535.9 756.7 1537.4 756.8 1539.1 757.0 C1540.7 757.2 1542.4 757.5 1544.2 758.0 C1545.9 758.4 1547.6 758.9 1549.4 759.5 C1551.1 760.1 1552.9 760.9 1554.6 761.7 C1556.4 762.6 1558.2 763.5 1559.9 764.5 C1561.7 765.6 1563.4 766.7 1565.2 768.0 C1566.9 769.2 1568.7 770.5 1570.4 772.0 C1572.2 773.4 1573.9 775.0 1575.6 776.6 C1577.3 778.2 1579.0 779.9 1580.7 781.8 C1582.4 783.6 1584.1 785.5 1585.7 787.5 C1587.4 789.5 1589.0 791.6 1590.6 793.8 C1592.2 795.9 1593.8 798.2 1595.4 800.5 C1596.9 802.9 1598.5 805.3 1600.0 807.8 C1601.5 810.3 1603.0 812.9 1604.5 815.6 C1605.9 818.2 1607.4 821.0 1608.8 823.8 C1610.1 826.6 1611.5 829.4 1612.9 832.4 C1614.2 835.3 1615.5 838.3 1616.8 841.4 C1618.0 844.4 1619.2 847.5 1620.4 850.7 C1621.6 853.9 1622.8 857.1 1623.9 860.4 C1625.0 863.7 1626.1 867.0 1627.1 870.4 C1628.1 873.7 1629.1 877.2 1630.1 880.6 C1631.0 884.1 1631.9 887.5 1632.8 891.1 C1633.6 894.6 1634.4 898.1 1635.2 901.7 C1636.0 905.3 1636.7 908.9 1637.4 912.5 C1638.0 916.1 1638.7 919.7 1639.2 923.3 C1639.8 927.0 1640.3 930.6 1640.8 934.2 C1641.3 937.9 1641.7 941.5 1642.1 945.1 C1642.4 948.7 1642.8 952.4 1643.0 955.9 C1643.3 959.5 1643.5 963.1 1643.7 966.5 C1643.8 969.9 1643.9 973.0 1644.0 976.3Z" fill="none" stroke="#7a6228" stroke-width="2"/>
<g class="c" text-anchor="middle">
<text x="195.9" y="1252.5">freshly laid</text>
<text x="548.9" y="1252.5">embryonating</text>
<text x="894.8" y="1252.5">eye spot</text>
<text x="1237.7" y="1252.5">hatched</text>
<text x="1555.5" y="1252.5">dead</text>
</g>
</g>
</svg>
</body></html>
